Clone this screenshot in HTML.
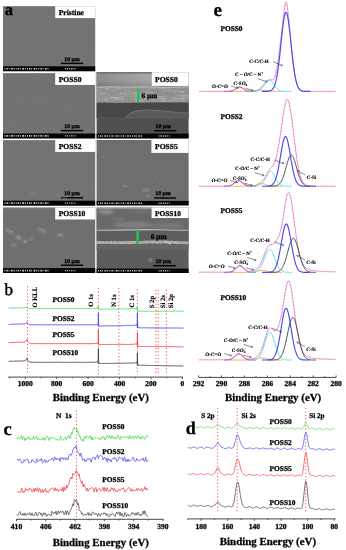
<!DOCTYPE html>
<html><head><meta charset="utf-8"><style>
html,body{margin:0;padding:0;background:#fff;overflow:hidden}
svg{display:block}
text{font-family:"Liberation Serif",serif;fill:#000;text-rendering:geometricPrecision}
.b{font-weight:bold;stroke:#000;stroke-width:0.28px}
.r{font-weight:normal;stroke:#000;stroke-width:0.45px}

.bt{font-weight:bold;stroke:#000;stroke-width:0.15px}
.bs{font-family:"Liberation Sans",sans-serif;font-weight:bold}
</style></head><body>
<svg width="346" height="550" viewBox="0 0 346 550">
<defs>
<filter id="bl0" x="-50%" y="-50%" width="200%" height="200%"><feGaussianBlur stdDeviation="0.35"/></filter>
<filter id="bl1" x="-50%" y="-50%" width="200%" height="200%"><feGaussianBlur stdDeviation="0.9"/></filter>
<filter id="bl2" x="-50%" y="-50%" width="200%" height="200%"><feGaussianBlur stdDeviation="1.6"/></filter>
<linearGradient id="gtopv" x1="0" y1="0" x2="0" y2="1"><stop offset="0" stop-color="#000" stop-opacity="0"/><stop offset="0.55" stop-color="#000" stop-opacity="0.02"/><stop offset="1" stop-color="#000" stop-opacity="0.16"/></linearGradient>
<linearGradient id="gtop" x1="0" y1="0" x2="1" y2="0">
<stop offset="0" stop-color="#8e8e8e"/><stop offset="0.55" stop-color="#a8a8a8"/><stop offset="1" stop-color="#9c9c9c"/>
</linearGradient>
</defs>
<rect width="346" height="550" fill="#fff"/>
<rect x="3" y="6.2" width="92.2" height="65.0" fill="#737373"/>
<rect x="3" y="6.2" width="92.2" height="0.8" fill="#888"/>
<ellipse cx="44.9" cy="39.4" rx="1.5" ry="0.7" fill="#8c8c8c" opacity="0.35"/>
<ellipse cx="49.8" cy="40.9" rx="0.7" ry="0.7" fill="#8c8c8c" opacity="0.35"/>
<ellipse cx="60.6" cy="52.0" rx="0.6" ry="0.6" fill="#8c8c8c" opacity="0.35"/>
<ellipse cx="13.0" cy="52.9" rx="1.3" ry="0.4" fill="#8c8c8c" opacity="0.35"/>
<ellipse cx="91.6" cy="61.3" rx="1.2" ry="0.8" fill="#8c8c8c" opacity="0.35"/>
<ellipse cx="18.9" cy="10.0" rx="1.1" ry="0.4" fill="#8c8c8c" opacity="0.35"/>
<ellipse cx="21.8" cy="22.3" rx="0.5" ry="0.7" fill="#8c8c8c" opacity="0.35"/>
<ellipse cx="43.9" cy="54.7" rx="1.1" ry="0.8" fill="#8c8c8c" opacity="0.35"/>
<ellipse cx="49.1" cy="45.0" rx="1.0" ry="0.6" fill="#8c8c8c" opacity="0.35"/>
<ellipse cx="93.0" cy="63.0" rx="1.4" ry="0.8" fill="#8c8c8c" opacity="0.35"/>
<ellipse cx="32.8" cy="21.6" rx="0.8" ry="0.4" fill="#8c8c8c" opacity="0.35"/>
<ellipse cx="72.6" cy="30.8" rx="1.4" ry="0.6" fill="#8c8c8c" opacity="0.35"/>
<ellipse cx="89.5" cy="55.0" rx="0.5" ry="0.5" fill="#8c8c8c" opacity="0.35"/>
<ellipse cx="85.3" cy="34.6" rx="1.6" ry="0.6" fill="#8c8c8c" opacity="0.35"/>
<rect x="3" y="66.3" width="92.2" height="4.9" fill="#050505"/>
<line x1="4.5" y1="68.8" x2="49" y2="68.8" stroke="#c8c8c8" stroke-width="1.6" stroke-dasharray="0.9 1.1 1.4 0.8 0.7 1.5 1.8 0.9 1 1.2"/>
<line x1="65" y1="68.8" x2="76" y2="68.8" stroke="#b0b0b0" stroke-width="1.4" stroke-dasharray="1 0.8 1.5 1"/>
<text x="64.3" y="60.7" font-size="5.8" class="b">10 µm</text>
<rect x="60.9" y="62.7" width="22.3" height="1.4" fill="#000"/>
<rect x="55.2" y="6.2" width="40.0" height="11.9" fill="#fff"/>
<text x="58.7" y="14.8" font-size="7.6" class="b">Pristine</text>
<rect x="3" y="73" width="92.2" height="65.4" fill="#727272"/>
<rect x="3" y="73" width="92.2" height="0.8" fill="#888"/>
<ellipse cx="46.9" cy="111.8" rx="1.2" ry="0.5" fill="#8c8c8c" opacity="0.35"/>
<ellipse cx="6.0" cy="96.4" rx="0.8" ry="0.9" fill="#8c8c8c" opacity="0.35"/>
<ellipse cx="65.9" cy="108.7" rx="1.1" ry="0.8" fill="#8c8c8c" opacity="0.35"/>
<ellipse cx="17.8" cy="99.9" rx="0.7" ry="0.9" fill="#8c8c8c" opacity="0.35"/>
<ellipse cx="10.2" cy="120.5" rx="0.6" ry="0.8" fill="#8c8c8c" opacity="0.35"/>
<ellipse cx="34.7" cy="98.0" rx="1.4" ry="0.4" fill="#8c8c8c" opacity="0.35"/>
<ellipse cx="10.4" cy="125.8" rx="1.1" ry="0.5" fill="#8c8c8c" opacity="0.35"/>
<ellipse cx="92.1" cy="127.5" rx="0.6" ry="0.7" fill="#8c8c8c" opacity="0.35"/>
<ellipse cx="16.9" cy="93.0" rx="1.2" ry="0.5" fill="#8c8c8c" opacity="0.35"/>
<ellipse cx="66.5" cy="78.8" rx="0.7" ry="0.9" fill="#8c8c8c" opacity="0.35"/>
<ellipse cx="40.3" cy="98.8" rx="1.2" ry="0.7" fill="#8c8c8c" opacity="0.35"/>
<ellipse cx="38.9" cy="77.7" rx="1.3" ry="1.0" fill="#8c8c8c" opacity="0.35"/>
<ellipse cx="91.1" cy="112.1" rx="0.9" ry="0.6" fill="#8c8c8c" opacity="0.35"/>
<ellipse cx="65.9" cy="112.7" rx="0.6" ry="0.5" fill="#8c8c8c" opacity="0.35"/>
<rect x="3" y="133.5" width="92.2" height="4.9" fill="#050505"/>
<line x1="4.5" y1="135.9" x2="49" y2="135.9" stroke="#c8c8c8" stroke-width="1.6" stroke-dasharray="0.9 1.1 1.4 0.8 0.7 1.5 1.8 0.9 1 1.2"/>
<line x1="65" y1="135.9" x2="76" y2="135.9" stroke="#b0b0b0" stroke-width="1.4" stroke-dasharray="1 0.8 1.5 1"/>
<text x="64.3" y="127.9" font-size="5.8" class="b">10 µm</text>
<rect x="60.9" y="129.9" width="22.3" height="1.4" fill="#000"/>
<rect x="55.2" y="73" width="40.0" height="11.9" fill="#fff"/>
<text x="58.7" y="81.6" font-size="7.6" class="b">POSS0</text>
<rect x="3" y="140" width="92.2" height="65.6" fill="#737373"/>
<rect x="3" y="140" width="92.2" height="0.8" fill="#888"/>
<ellipse cx="27.8" cy="180.4" rx="1.3" ry="0.9" fill="#8c8c8c" opacity="0.35"/>
<ellipse cx="21.4" cy="155.6" rx="0.7" ry="0.5" fill="#8c8c8c" opacity="0.35"/>
<ellipse cx="69.7" cy="150.1" rx="1.1" ry="0.5" fill="#8c8c8c" opacity="0.35"/>
<ellipse cx="31.0" cy="166.6" rx="1.4" ry="0.8" fill="#8c8c8c" opacity="0.35"/>
<ellipse cx="6.3" cy="158.1" rx="0.7" ry="0.9" fill="#8c8c8c" opacity="0.35"/>
<ellipse cx="76.4" cy="187.0" rx="1.4" ry="0.8" fill="#8c8c8c" opacity="0.35"/>
<ellipse cx="88.7" cy="186.3" rx="0.8" ry="0.9" fill="#8c8c8c" opacity="0.35"/>
<ellipse cx="47.9" cy="184.2" rx="1.1" ry="0.7" fill="#8c8c8c" opacity="0.35"/>
<ellipse cx="37.1" cy="166.5" rx="0.8" ry="0.5" fill="#8c8c8c" opacity="0.35"/>
<ellipse cx="77.3" cy="186.6" rx="1.6" ry="0.8" fill="#8c8c8c" opacity="0.35"/>
<ellipse cx="53.9" cy="183.9" rx="0.6" ry="0.8" fill="#8c8c8c" opacity="0.35"/>
<ellipse cx="44.1" cy="152.6" rx="0.7" ry="0.7" fill="#8c8c8c" opacity="0.35"/>
<ellipse cx="27.3" cy="168.1" rx="1.2" ry="0.6" fill="#8c8c8c" opacity="0.35"/>
<ellipse cx="16.5" cy="169.8" rx="0.8" ry="0.5" fill="#8c8c8c" opacity="0.35"/>
<rect x="3" y="200.7" width="92.2" height="4.9" fill="#050505"/>
<line x1="4.5" y1="203.1" x2="49" y2="203.1" stroke="#c8c8c8" stroke-width="1.6" stroke-dasharray="0.9 1.1 1.4 0.8 0.7 1.5 1.8 0.9 1 1.2"/>
<line x1="65" y1="203.1" x2="76" y2="203.1" stroke="#b0b0b0" stroke-width="1.4" stroke-dasharray="1 0.8 1.5 1"/>
<text x="64.3" y="195.1" font-size="5.8" class="b">10 µm</text>
<rect x="60.9" y="197.1" width="22.3" height="1.4" fill="#000"/>
<rect x="55.2" y="140" width="40.0" height="11.9" fill="#fff"/>
<text x="58.7" y="148.6" font-size="7.6" class="b">POSS2</text>
<rect x="3" y="207.6" width="92.2" height="65.4" fill="#6f6f6f"/>
<rect x="3" y="207.6" width="92.2" height="0.8" fill="#888"/>
<ellipse cx="14.4" cy="248.8" rx="1.2" ry="1.0" fill="#8c8c8c" opacity="0.35"/>
<ellipse cx="28.9" cy="224.5" rx="1.3" ry="0.8" fill="#8c8c8c" opacity="0.35"/>
<ellipse cx="31.7" cy="247.8" rx="0.9" ry="0.9" fill="#8c8c8c" opacity="0.35"/>
<ellipse cx="15.4" cy="222.7" rx="1.5" ry="0.6" fill="#8c8c8c" opacity="0.35"/>
<ellipse cx="28.0" cy="254.4" rx="1.2" ry="0.5" fill="#8c8c8c" opacity="0.35"/>
<ellipse cx="53.6" cy="246.7" rx="0.7" ry="0.8" fill="#8c8c8c" opacity="0.35"/>
<ellipse cx="15.9" cy="228.9" rx="0.6" ry="0.5" fill="#8c8c8c" opacity="0.35"/>
<ellipse cx="91.3" cy="232.6" rx="1.6" ry="0.7" fill="#8c8c8c" opacity="0.35"/>
<ellipse cx="58.6" cy="258.1" rx="1.3" ry="0.5" fill="#8c8c8c" opacity="0.35"/>
<ellipse cx="57.0" cy="245.1" rx="0.7" ry="0.5" fill="#8c8c8c" opacity="0.35"/>
<ellipse cx="82.2" cy="238.5" rx="0.7" ry="0.7" fill="#8c8c8c" opacity="0.35"/>
<ellipse cx="24.2" cy="254.0" rx="1.1" ry="0.5" fill="#8c8c8c" opacity="0.35"/>
<ellipse cx="77.2" cy="215.5" rx="0.8" ry="0.4" fill="#8c8c8c" opacity="0.35"/>
<ellipse cx="70.3" cy="216.8" rx="1.1" ry="0.5" fill="#8c8c8c" opacity="0.35"/>
<rect x="3" y="268.1" width="92.2" height="4.9" fill="#050505"/>
<line x1="4.5" y1="270.6" x2="49" y2="270.6" stroke="#c8c8c8" stroke-width="1.6" stroke-dasharray="0.9 1.1 1.4 0.8 0.7 1.5 1.8 0.9 1 1.2"/>
<line x1="65" y1="270.6" x2="76" y2="270.6" stroke="#b0b0b0" stroke-width="1.4" stroke-dasharray="1 0.8 1.5 1"/>
<text x="64.3" y="262.5" font-size="5.8" class="b">10 µm</text>
<rect x="60.9" y="264.5" width="22.3" height="1.4" fill="#000"/>
<rect x="55.2" y="207.6" width="40.0" height="11.9" fill="#fff"/>
<text x="58.7" y="216.2" font-size="7.6" class="b">POSS10</text>
<g filter="url(#bl1)">
<ellipse cx="0" cy="0" rx="5.5" ry="1.4" fill="#a0a0a0" opacity="0.55" transform="translate(9,231) rotate(30)"/>
<ellipse cx="0" cy="0" rx="2.8" ry="2.2" fill="#a0a0a0" opacity="0.55" transform="translate(18.5,237.5) rotate(0)"/>
<ellipse cx="0" cy="0" rx="2.6" ry="2" fill="#a0a0a0" opacity="0.55" transform="translate(25,241.5) rotate(0)"/>
<ellipse cx="0" cy="0" rx="5.5" ry="1.3" fill="#a0a0a0" opacity="0.55" transform="translate(42,230.5) rotate(25)"/>
<ellipse cx="0" cy="0" rx="3.8" ry="1.5" fill="#a0a0a0" opacity="0.55" transform="translate(60.5,235) rotate(0)"/>
<ellipse cx="0" cy="0" rx="3" ry="1.4" fill="#a0a0a0" opacity="0.55" transform="translate(14,245) rotate(0)"/>
<ellipse cx="0" cy="0" rx="2" ry="1.2" fill="#a0a0a0" opacity="0.55" transform="translate(31,239) rotate(0)"/>
</g>
<rect x="18" y="237" width="1" height="1" fill="#c0c0c0" opacity="0.7"/>
<rect x="20" y="238.5" width="1" height="1" fill="#c0c0c0" opacity="0.7"/>
<rect x="24" y="241" width="1" height="1" fill="#c0c0c0" opacity="0.7"/>
<rect x="43" y="229.5" width="1" height="1" fill="#c0c0c0" opacity="0.7"/>
<rect x="60" y="234.5" width="1" height="1" fill="#c0c0c0" opacity="0.7"/>
<rect x="11" y="231" width="1" height="1" fill="#c0c0c0" opacity="0.7"/>
<g filter="url(#bl1)">
<ellipse cx="33" cy="193" rx="3" ry="1.5" fill="#8e8e8e" opacity="0.45"/>
<ellipse cx="58" cy="195" rx="3.5" ry="1.6" fill="#8e8e8e" opacity="0.45"/>
<ellipse cx="65" cy="198" rx="3" ry="1.2" fill="#8e8e8e" opacity="0.45"/>
</g>
<rect x="96.6" y="72.2" width="92.0" height="66.2" fill="#4f4f4f"/>
<rect x="96.6" y="72.2" width="92.0" height="15" fill="url(#gtop)"/>
<rect x="96.6" y="72.2" width="92.0" height="15" fill="url(#gtopv)"/>
<rect x="96.6" y="72.2" width="92.0" height="1.4" fill="#6e6e6e"/>
<path d="M96.6,86.8 C110,86 125,87.2 140,86.6 C150,86 158,87.4 168,87.2 L188.6,86.4 L188.6,102.4 C175,103 160,101.8 140,102.8 C120,103.4 110,102.4 96.6,102.8 Z" fill="#939393"/>
<path d="M96.6,87.2 C110,86.4 125,87.6 140,87 C150,86.4 158,87.8 168,87.6 L188.6,86.8" fill="none" stroke="#bdbdbd" stroke-width="1.0"/>
<path d="M152,89 C160,88 170,88 180,89.5 L188.6,90 L188.6,95 C180,96 168,97 158,95 C154,94 152,92 152,89 Z" fill="#8e8e8e" opacity="0.8"/>
<g filter="url(#bl0)">
<line x1="111.1" y1="97.3" x2="117.6" y2="97.7" stroke="#bcbcbc" stroke-width="0.9"/>
<line x1="138.4" y1="101.0" x2="141.7" y2="100.7" stroke="#888888" stroke-width="0.4"/>
<line x1="129.3" y1="95.9" x2="131.7" y2="96.4" stroke="#b0b0b0" stroke-width="0.7"/>
<line x1="135.0" y1="101.4" x2="142.4" y2="101.6" stroke="#bcbcbc" stroke-width="0.4"/>
<line x1="125.5" y1="94.7" x2="128.4" y2="94.1" stroke="#a6a6a6" stroke-width="0.8"/>
<line x1="104.4" y1="98.9" x2="106.5" y2="99.0" stroke="#b0b0b0" stroke-width="0.6"/>
<line x1="139.3" y1="90.5" x2="141.5" y2="90.0" stroke="#b0b0b0" stroke-width="0.5"/>
<line x1="155.9" y1="98.8" x2="162.5" y2="99.4" stroke="#888888" stroke-width="0.4"/>
<line x1="145.9" y1="95.5" x2="150.6" y2="96.1" stroke="#a6a6a6" stroke-width="0.8"/>
<line x1="132.6" y1="92.9" x2="137.8" y2="92.7" stroke="#bcbcbc" stroke-width="0.6"/>
<line x1="120.0" y1="99.3" x2="123.1" y2="98.7" stroke="#bcbcbc" stroke-width="0.4"/>
<line x1="149.3" y1="95.0" x2="155.3" y2="95.1" stroke="#a6a6a6" stroke-width="0.7"/>
<line x1="112.5" y1="90.3" x2="116.9" y2="90.1" stroke="#a6a6a6" stroke-width="0.7"/>
<line x1="123.6" y1="89.4" x2="126.0" y2="89.7" stroke="#b0b0b0" stroke-width="0.6"/>
<line x1="156.7" y1="97.1" x2="165.0" y2="97.0" stroke="#b0b0b0" stroke-width="0.9"/>
<line x1="181.2" y1="96.0" x2="189.4" y2="96.0" stroke="#bcbcbc" stroke-width="0.7"/>
<line x1="179.0" y1="91.3" x2="184.9" y2="91.7" stroke="#bcbcbc" stroke-width="0.8"/>
<line x1="139.1" y1="99.3" x2="141.5" y2="99.5" stroke="#a6a6a6" stroke-width="0.4"/>
<line x1="118.5" y1="93.3" x2="126.6" y2="93.9" stroke="#b0b0b0" stroke-width="0.8"/>
<line x1="138.7" y1="91.4" x2="147.5" y2="91.9" stroke="#888888" stroke-width="0.6"/>
<line x1="180.4" y1="100.1" x2="185.0" y2="100.6" stroke="#b0b0b0" stroke-width="0.7"/>
<line x1="134.1" y1="95.8" x2="142.0" y2="95.4" stroke="#a6a6a6" stroke-width="0.7"/>
<line x1="108.9" y1="97.7" x2="113.5" y2="98.3" stroke="#b0b0b0" stroke-width="0.4"/>
<line x1="148.8" y1="96.7" x2="156.8" y2="96.6" stroke="#888888" stroke-width="0.7"/>
<line x1="162.7" y1="99.0" x2="165.7" y2="98.5" stroke="#b0b0b0" stroke-width="0.4"/>
<line x1="98.8" y1="94.0" x2="101.8" y2="94.2" stroke="#b4b4b4" stroke-width="0.5"/>
<line x1="144.0" y1="92.4" x2="149.5" y2="92.5" stroke="#b0b0b0" stroke-width="0.5"/>
<line x1="172.1" y1="90.7" x2="179.3" y2="90.8" stroke="#b4b4b4" stroke-width="0.7"/>
<line x1="162.2" y1="88.8" x2="170.7" y2="88.7" stroke="#bcbcbc" stroke-width="0.4"/>
<line x1="163.8" y1="90.4" x2="170.8" y2="90.9" stroke="#a6a6a6" stroke-width="0.7"/>
<line x1="162.2" y1="91.3" x2="165.3" y2="91.7" stroke="#a6a6a6" stroke-width="0.8"/>
<line x1="139.7" y1="95.7" x2="145.5" y2="95.7" stroke="#b4b4b4" stroke-width="0.8"/>
<line x1="181.7" y1="92.2" x2="188.6" y2="92.5" stroke="#888888" stroke-width="0.5"/>
<line x1="150.8" y1="92.4" x2="154.3" y2="92.2" stroke="#b4b4b4" stroke-width="0.9"/>
<line x1="106.1" y1="89.0" x2="108.6" y2="89.0" stroke="#bcbcbc" stroke-width="0.9"/>
<line x1="156.4" y1="97.5" x2="161.7" y2="97.4" stroke="#888888" stroke-width="0.6"/>
<line x1="116.4" y1="88.7" x2="121.5" y2="88.4" stroke="#b0b0b0" stroke-width="0.7"/>
<line x1="132.2" y1="93.8" x2="139.8" y2="93.6" stroke="#bcbcbc" stroke-width="0.6"/>
<line x1="152.2" y1="101.0" x2="154.8" y2="100.6" stroke="#bcbcbc" stroke-width="0.6"/>
<line x1="149.8" y1="90.9" x2="155.0" y2="91.1" stroke="#888888" stroke-width="0.8"/>
<line x1="158.1" y1="97.2" x2="161.8" y2="97.1" stroke="#bcbcbc" stroke-width="0.7"/>
<line x1="169.2" y1="101.0" x2="178.1" y2="100.6" stroke="#b4b4b4" stroke-width="0.5"/>
<line x1="173.7" y1="97.7" x2="176.3" y2="97.2" stroke="#b0b0b0" stroke-width="0.6"/>
<line x1="179.6" y1="98.0" x2="184.9" y2="98.6" stroke="#b4b4b4" stroke-width="0.5"/>
<line x1="134.7" y1="97.2" x2="139.3" y2="97.4" stroke="#888888" stroke-width="0.5"/>
<line x1="180.3" y1="92.3" x2="184.1" y2="92.8" stroke="#b0b0b0" stroke-width="0.7"/>
<line x1="117.6" y1="97.3" x2="124.6" y2="97.8" stroke="#b0b0b0" stroke-width="0.6"/>
<line x1="135.0" y1="96.3" x2="139.0" y2="96.5" stroke="#b0b0b0" stroke-width="0.7"/>
<line x1="105.3" y1="101.2" x2="108.8" y2="101.5" stroke="#a6a6a6" stroke-width="0.9"/>
<line x1="158.6" y1="88.3" x2="164.1" y2="88.1" stroke="#b4b4b4" stroke-width="0.6"/>
<line x1="136.2" y1="101.4" x2="144.8" y2="100.9" stroke="#b0b0b0" stroke-width="0.6"/>
<line x1="136.6" y1="100.1" x2="141.2" y2="100.2" stroke="#b0b0b0" stroke-width="0.9"/>
<line x1="134.6" y1="99.4" x2="138.8" y2="99.2" stroke="#bcbcbc" stroke-width="0.7"/>
<line x1="116.4" y1="98.8" x2="124.3" y2="99.3" stroke="#bcbcbc" stroke-width="0.4"/>
<line x1="147.8" y1="89.1" x2="156.1" y2="88.7" stroke="#b0b0b0" stroke-width="0.6"/>
<line x1="142.9" y1="95.2" x2="148.4" y2="94.8" stroke="#a6a6a6" stroke-width="0.5"/>
<line x1="121.9" y1="96.6" x2="124.0" y2="96.8" stroke="#b4b4b4" stroke-width="0.5"/>
<line x1="105.2" y1="99.2" x2="109.8" y2="98.7" stroke="#a6a6a6" stroke-width="0.4"/>
<line x1="140.2" y1="97.2" x2="146.7" y2="96.6" stroke="#b0b0b0" stroke-width="0.5"/>
<line x1="128.2" y1="91.4" x2="131.5" y2="91.7" stroke="#b0b0b0" stroke-width="0.7"/>
<line x1="103.5" y1="99.2" x2="107.0" y2="99.4" stroke="#b4b4b4" stroke-width="0.7"/>
<line x1="152.3" y1="96.7" x2="154.5" y2="96.7" stroke="#a6a6a6" stroke-width="0.5"/>
<line x1="171.5" y1="98.9" x2="179.8" y2="98.6" stroke="#b4b4b4" stroke-width="0.8"/>
<line x1="176.0" y1="95.2" x2="184.4" y2="95.1" stroke="#a6a6a6" stroke-width="0.9"/>
<line x1="179.0" y1="98.7" x2="181.1" y2="98.3" stroke="#a6a6a6" stroke-width="0.5"/>
<line x1="98.8" y1="93.1" x2="106.0" y2="93.6" stroke="#b0b0b0" stroke-width="0.7"/>
<line x1="174.2" y1="90.8" x2="183.2" y2="90.5" stroke="#888888" stroke-width="0.6"/>
<line x1="164.1" y1="100.9" x2="172.5" y2="100.8" stroke="#b0b0b0" stroke-width="0.5"/>
<line x1="144.1" y1="99.0" x2="148.6" y2="99.6" stroke="#b0b0b0" stroke-width="0.9"/>
<line x1="180.6" y1="98.2" x2="189.5" y2="98.5" stroke="#b0b0b0" stroke-width="0.5"/>
<line x1="143.5" y1="93.0" x2="152.4" y2="92.5" stroke="#a6a6a6" stroke-width="0.5"/>
<line x1="133.9" y1="96.7" x2="141.3" y2="96.8" stroke="#b0b0b0" stroke-width="0.5"/>
<line x1="134.5" y1="93.1" x2="139.9" y2="92.6" stroke="#a6a6a6" stroke-width="0.8"/>
<line x1="114.7" y1="98.7" x2="119.1" y2="99.0" stroke="#bcbcbc" stroke-width="0.8"/>
<line x1="160.9" y1="101.4" x2="165.6" y2="100.9" stroke="#bcbcbc" stroke-width="0.8"/>
<line x1="172.9" y1="92.0" x2="180.7" y2="91.6" stroke="#bcbcbc" stroke-width="0.5"/>
<line x1="161.2" y1="99.0" x2="166.6" y2="98.4" stroke="#b4b4b4" stroke-width="0.9"/>
<line x1="108.2" y1="92.5" x2="112.7" y2="92.7" stroke="#888888" stroke-width="0.7"/>
<line x1="157.6" y1="99.7" x2="164.8" y2="99.9" stroke="#a6a6a6" stroke-width="0.8"/>
<line x1="137.0" y1="89.7" x2="145.2" y2="90.1" stroke="#888888" stroke-width="0.8"/>
</g>
<rect x="96.6" y="102.8" width="92.0" height="9" fill="#474747"/>
<rect x="96.6" y="111.5" width="92.0" height="6.5" fill="#484848"/>
<path d="M125,118 C128,115 130,112.6 136,111 C142,109.8 150,109.6 165,111.2 C175,112.2 182,113 188.6,113 L188.6,118 Z" fill="#5a5a5a"/>
<path d="M125,118 C128,115 130,112.6 136,111 C142,109.8 150,109.6 165,111.2 C175,112.2 182,113 188.6,113" fill="none" stroke="#7a7a7a" stroke-width="0.8"/>
<rect x="96.6" y="117.6" width="92.0" height="0.8" fill="#606060"/>
<rect x="96.6" y="133.6" width="92.0" height="4.8" fill="#050505"/>
<line x1="98.1" y1="136.0" x2="142.6" y2="136.0" stroke="#c8c8c8" stroke-width="1.6" stroke-dasharray="0.9 1.1 1.4 0.8 0.7 1.5 1.8 0.9 1 1.2"/>
<line x1="158.6" y1="136.0" x2="169.6" y2="136.0" stroke="#b0b0b0" stroke-width="1.4" stroke-dasharray="1 0.8 1.5 1"/>
<text x="155.6" y="128.0" font-size="5.8" class="b">10 µm</text>
<rect x="154.2" y="130.0" width="22.2" height="1.4" fill="#000"/>
<rect x="151.8" y="72.2" width="36.8" height="13.7" fill="#fff"/>
<text x="155.0" y="82.4" font-size="7.6" class="b">POSS0</text>
<rect x="137.1" y="88.6" width="2.3" height="13.5" fill="#1ec24f"/>
<text x="141.6" y="98.2" font-size="7.3" class="b">6 µm</text>
<rect x="96.6" y="140" width="92.0" height="65.4" fill="#6e6e6e"/>
<ellipse cx="148.8" cy="177.4" rx="1.4" ry="0.6" fill="#8c8c8c" opacity="0.35"/>
<ellipse cx="156.0" cy="191.5" rx="1.5" ry="0.5" fill="#8c8c8c" opacity="0.35"/>
<ellipse cx="156.0" cy="176.6" rx="1.1" ry="1.0" fill="#8c8c8c" opacity="0.35"/>
<ellipse cx="145.1" cy="167.2" rx="1.5" ry="0.8" fill="#8c8c8c" opacity="0.35"/>
<ellipse cx="125.1" cy="159.8" rx="1.0" ry="0.4" fill="#8c8c8c" opacity="0.35"/>
<ellipse cx="152.1" cy="183.0" rx="1.0" ry="0.9" fill="#8c8c8c" opacity="0.35"/>
<ellipse cx="180.3" cy="173.2" rx="1.2" ry="0.5" fill="#8c8c8c" opacity="0.35"/>
<ellipse cx="103.5" cy="196.3" rx="0.8" ry="0.5" fill="#8c8c8c" opacity="0.35"/>
<ellipse cx="177.5" cy="183.8" rx="0.6" ry="0.6" fill="#8c8c8c" opacity="0.35"/>
<ellipse cx="120.0" cy="157.8" rx="0.5" ry="0.7" fill="#8c8c8c" opacity="0.35"/>
<ellipse cx="125.4" cy="164.4" rx="0.7" ry="0.5" fill="#8c8c8c" opacity="0.35"/>
<ellipse cx="101.5" cy="190.5" rx="1.3" ry="0.7" fill="#8c8c8c" opacity="0.35"/>
<ellipse cx="109.5" cy="151.1" rx="0.6" ry="0.6" fill="#8c8c8c" opacity="0.35"/>
<ellipse cx="103.7" cy="158.0" rx="0.7" ry="0.5" fill="#8c8c8c" opacity="0.35"/>
<ellipse cx="103" cy="157" rx="1.2" ry="1" fill="#8e8e8e" opacity="0.55"/>
<ellipse cx="125" cy="186" rx="3" ry="1.5" fill="#8e8e8e" opacity="0.55"/>
<ellipse cx="146" cy="190" rx="3.5" ry="2" fill="#8e8e8e" opacity="0.55"/>
<ellipse cx="148" cy="196" rx="3" ry="1.4" fill="#8e8e8e" opacity="0.55"/>
<rect x="96.6" y="200.9" width="92.0" height="4.5" fill="#050505"/>
<line x1="98.1" y1="203.2" x2="142.6" y2="203.2" stroke="#c8c8c8" stroke-width="1.6" stroke-dasharray="0.9 1.1 1.4 0.8 0.7 1.5 1.8 0.9 1 1.2"/>
<line x1="158.6" y1="203.2" x2="169.6" y2="203.2" stroke="#b0b0b0" stroke-width="1.4" stroke-dasharray="1 0.8 1.5 1"/>
<text x="155.3" y="195.3" font-size="5.8" class="b">10 µm</text>
<rect x="154.2" y="197.3" width="21.9" height="1.4" fill="#000"/>
<rect x="151.4" y="140" width="37.2" height="12.9" fill="#fff"/>
<text x="155.0" y="149.3" font-size="7.6" class="b">POSS5</text>
<rect x="96.6" y="207.6" width="92.0" height="65.4" fill="#5c5c5c"/>
<rect x="96.6" y="207.6" width="92.0" height="23.2" fill="#696969"/>
<g filter="url(#bl2)">
<ellipse cx="106" cy="211.5" rx="8" ry="2.6" fill="#939393" opacity="0.9"/>
<ellipse cx="140" cy="210" rx="14" ry="2" fill="#747474" opacity="0.9"/>
<ellipse cx="133" cy="225" rx="20" ry="3" fill="#838383" opacity="0.9"/>
<ellipse cx="168" cy="226" rx="16" ry="3" fill="#7c7c7c" opacity="0.9"/>
<ellipse cx="178" cy="214" rx="8" ry="3" fill="#747474" opacity="0.9"/>
<ellipse cx="118" cy="219" rx="6" ry="2" fill="#777777" opacity="0.9"/>
</g>
<rect x="96.6" y="207.6" width="92.0" height="0.9" fill="#c4c4c4"/>
<path d="M96.6,230.2 C120,230.4 140,229.2 160,229.8 C170,230 180,230.4 188.6,230.2" fill="none" stroke="#b8b8b8" stroke-width="1.1"/>
<rect x="96.6" y="231" width="92.0" height="10" fill="#5e5e5e"/>
<path d="M96.6,241.4 C110,240.8 130,241.6 145,240.8 C160,239.8 175,241 188.6,241.6 L188.6,244.4 C175,244.2 160,243.2 145,243.8 C130,244.4 110,243.6 96.6,244 Z" fill="#a8a8a8"/>
<rect x="134.0" y="241.4" width="0.8" height="0.6" fill="#d4d4d4"/>
<rect x="166.0" y="241.6" width="1.0" height="0.9" fill="#d4d4d4"/>
<rect x="146.1" y="244.4" width="1.1" height="0.8" fill="#d4d4d4"/>
<rect x="152.8" y="241.5" width="1.5" height="0.7" fill="#d4d4d4"/>
<rect x="132.5" y="243.3" width="0.8" height="0.9" fill="#d4d4d4"/>
<rect x="174.1" y="242.0" width="1.5" height="0.8" fill="#d4d4d4"/>
<rect x="167.3" y="242.5" width="1.0" height="0.7" fill="#d4d4d4"/>
<rect x="98.3" y="241.4" width="1.6" height="0.8" fill="#d4d4d4"/>
<rect x="139.2" y="244.2" width="1.2" height="1.1" fill="#d4d4d4"/>
<rect x="129.8" y="241.5" width="1.5" height="0.6" fill="#d4d4d4"/>
<rect x="168.9" y="243.0" width="1.6" height="1.1" fill="#d4d4d4"/>
<rect x="157.0" y="240.7" width="0.6" height="0.8" fill="#d4d4d4"/>
<rect x="171.4" y="240.9" width="1.0" height="0.6" fill="#d4d4d4"/>
<rect x="125.5" y="240.6" width="0.9" height="0.8" fill="#d4d4d4"/>
<rect x="115.7" y="243.7" width="0.7" height="0.6" fill="#d4d4d4"/>
<rect x="120.8" y="242.2" width="1.4" height="0.7" fill="#d4d4d4"/>
<rect x="160.1" y="244.3" width="0.7" height="1.0" fill="#d4d4d4"/>
<rect x="151.6" y="243.6" width="1.2" height="0.7" fill="#d4d4d4"/>
<rect x="106.3" y="241.2" width="0.8" height="0.6" fill="#d4d4d4"/>
<rect x="110.7" y="241.4" width="1.2" height="1.0" fill="#d4d4d4"/>
<rect x="169.4" y="244.0" width="0.7" height="1.0" fill="#d4d4d4"/>
<rect x="114.3" y="240.9" width="0.9" height="0.9" fill="#d4d4d4"/>
<rect x="101.9" y="241.5" width="1.0" height="1.0" fill="#d4d4d4"/>
<rect x="133.5" y="242.3" width="1.0" height="0.6" fill="#d4d4d4"/>
<rect x="176.8" y="244.3" width="1.3" height="0.7" fill="#d4d4d4"/>
<rect x="137.6" y="241.8" width="1.3" height="0.9" fill="#d4d4d4"/>
<rect x="125.6" y="244.1" width="1.3" height="0.6" fill="#d4d4d4"/>
<rect x="170.4" y="243.3" width="0.8" height="0.7" fill="#d4d4d4"/>
<rect x="165.2" y="240.9" width="1.0" height="1.1" fill="#d4d4d4"/>
<rect x="120.7" y="242.6" width="1.5" height="1.0" fill="#d4d4d4"/>
<rect x="168.5" y="242.7" width="1.5" height="0.7" fill="#d4d4d4"/>
<rect x="176.9" y="242.2" width="1.3" height="0.9" fill="#d4d4d4"/>
<rect x="123.0" y="243.3" width="1.2" height="1.1" fill="#d4d4d4"/>
<rect x="157.6" y="242.4" width="1.0" height="1.0" fill="#d4d4d4"/>
<rect x="128.7" y="243.3" width="1.3" height="1.1" fill="#d4d4d4"/>
<rect x="115.0" y="243.3" width="0.8" height="0.9" fill="#d4d4d4"/>
<rect x="156.7" y="243.6" width="1.5" height="0.6" fill="#d4d4d4"/>
<rect x="175.0" y="242.0" width="1.0" height="0.6" fill="#d4d4d4"/>
<rect x="145.5" y="240.6" width="0.9" height="0.9" fill="#d4d4d4"/>
<rect x="164.9" y="241.3" width="1.4" height="0.8" fill="#d4d4d4"/>
<rect x="96.6" y="244.4" width="92.0" height="5" fill="#656565"/>
<circle cx="150.3" cy="260.2" r="1.6" fill="none" stroke="#aaa" stroke-width="0.6"/>
<rect x="96.6" y="268.6" width="92.0" height="4.4" fill="#050505"/>
<line x1="98.1" y1="270.8" x2="142.6" y2="270.8" stroke="#c8c8c8" stroke-width="1.6" stroke-dasharray="0.9 1.1 1.4 0.8 0.7 1.5 1.8 0.9 1 1.2"/>
<line x1="158.6" y1="270.8" x2="169.6" y2="270.8" stroke="#b0b0b0" stroke-width="1.4" stroke-dasharray="1 0.8 1.5 1"/>
<text x="155.6" y="263.0" font-size="5.8" class="b">10 µm</text>
<rect x="153.3" y="265.0" width="22.5" height="1.4" fill="#000"/>
<rect x="151.6" y="207.6" width="37.0" height="10.4" fill="#fff"/>
<text x="155.0" y="215.8" font-size="7.4" class="b">POSS10</text>
<rect x="136.3" y="229.9" width="2.6" height="13.8" fill="#1ec24f"/>
<text x="150.8" y="238.5" font-size="7.4" class="b">6 µm</text>
<text x="4.7" y="14.5" font-size="16.5" class="b">a</text>
<text x="4.5" y="295.2" font-size="17" class="r">b</text>
<line x1="27.5" y1="286.2" x2="27.5" y2="374.6" stroke="#f04040" stroke-width="0.9" stroke-dasharray="1.2 2.2"/>
<line x1="98.4" y1="288" x2="98.4" y2="374.6" stroke="#f04040" stroke-width="0.9" stroke-dasharray="1.2 2.2"/>
<line x1="118.9" y1="288" x2="118.9" y2="374.6" stroke="#f04040" stroke-width="0.9" stroke-dasharray="1.2 2.2"/>
<line x1="137.4" y1="289.4" x2="137.4" y2="374.6" stroke="#f04040" stroke-width="0.9" stroke-dasharray="1.2 2.2"/>
<line x1="155.9" y1="290" x2="155.9" y2="374.6" stroke="#f04040" stroke-width="0.9" stroke-dasharray="1.2 2.2"/>
<line x1="158.2" y1="290" x2="158.2" y2="374.6" stroke="#f04040" stroke-width="0.9" stroke-dasharray="1.2 2.2"/>
<line x1="166.4" y1="290" x2="166.4" y2="374.6" stroke="#f04040" stroke-width="0.9" stroke-dasharray="1.2 2.2"/>
<text transform="translate(37.4,307.6) rotate(-90)" font-size="6.6" class="bt">O KLL</text>
<text transform="translate(93.2,306.8) rotate(-90)" font-size="6.6" class="bt">O 1s</text>
<text transform="translate(116.2,306.8) rotate(-90)" font-size="6.6" class="bt">N 1s</text>
<text transform="translate(134.2,307.4) rotate(-90)" font-size="6.6" class="bt">C 1s</text>
<text transform="translate(153.6,308.2) rotate(-90)" font-size="6.6" class="bt">S 2p</text>
<text transform="translate(164.6,308.2) rotate(-90)" font-size="6.6" class="bt">Si 2s</text>
<text transform="translate(173.3,308.2) rotate(-90)" font-size="6.6" class="bt">Si 2p</text>
<path d="M8.5,308.2 9.0,308.1 9.5,308.2 10.0,308.1 10.5,308.1 11.0,308.1 11.5,308.0 12.0,308.1 12.5,308.0 13.0,308.0 13.5,307.9 14.0,307.9 14.5,308.0 15.0,308.1 15.5,307.9 16.0,307.9 16.5,308.0 17.0,308.0 17.5,307.9 18.0,307.9 18.5,308.0 19.0,307.8 19.5,307.9 20.0,307.8 20.5,307.7 21.0,307.7 21.5,307.7 22.0,307.8 22.5,307.7 23.0,307.8 23.5,307.8 24.0,307.7 24.5,307.7 25.0,307.5 25.5,307.5 26.0,307.4 26.5,307.3 27.0,307.1 27.5,308.0 28.0,308.2 28.5,308.3 29.0,308.3 29.5,308.5 30.0,308.5 30.5,308.4 31.0,308.5 31.5,308.5 32.0,308.6 32.5,308.6 33.0,308.4 33.5,308.6 34.0,308.4 34.5,308.5 35.0,308.6 35.5,308.4 36.0,308.5 36.5,308.4 37.0,308.5 37.5,308.6 38.0,308.5 38.5,308.6 39.0,308.5 39.5,308.5 40.0,308.5 40.5,308.5 41.0,308.5 41.5,308.6 42.0,308.6 42.5,308.5 43.0,308.5 43.5,308.4 44.0,308.5 44.5,308.5 45.0,308.6 45.5,308.6 46.0,308.4 46.5,308.5 47.0,308.5 47.5,308.4 48.0,308.5 48.5,308.4 49.0,308.4 49.5,308.4 50.0,308.6 50.5,308.4 51.0,308.4 51.5,308.5 52.0,308.6 52.5,308.4 53.0,308.5 53.5,308.5 54.0,308.6 54.5,308.6 55.0,308.6 55.5,308.4 56.0,308.5 56.5,308.5 57.0,308.6 57.5,308.6 58.0,308.4 58.5,308.4 59.0,308.4 59.5,308.4 60.0,308.5 60.5,308.5 61.0,308.4 61.5,308.4 62.0,308.5 62.5,308.5 63.0,308.5 63.5,308.6 64.0,308.5 64.5,308.5 65.0,308.5 65.5,308.5 66.0,308.4 66.5,308.6 67.0,308.6 67.5,308.6 68.0,308.6 68.5,308.5 69.0,308.5 69.5,308.4 70.0,308.5 70.5,308.4 71.0,308.4 71.5,308.4 72.0,308.4 72.5,308.5 73.0,308.4 73.5,308.4 74.0,308.4 74.5,308.4 75.0,308.5 75.5,308.4 76.0,308.6 76.5,308.5 77.0,308.4 77.5,308.4 78.0,308.5 78.5,308.5 79.0,308.4 79.5,308.6 80.0,308.6 80.5,308.5 81.0,308.5 81.5,308.4 82.0,308.4 82.5,308.5 83.0,308.4 83.5,308.6 84.0,308.4 84.5,308.4 85.0,308.6 85.5,308.5 86.0,308.4 86.5,308.5 87.0,308.4 87.5,308.5 88.0,308.6 88.5,308.6 89.0,308.5 89.5,308.4 90.0,308.5 90.5,308.4 91.0,308.6 91.5,308.5 92.0,308.6 92.5,308.5 93.0,308.4 93.5,308.6 94.0,308.6 94.5,308.6 95.0,308.6 95.5,308.5 96.0,308.3 96.5,308.1 97.0,308.0 97.5,307.9 98.2,307.3 98.4,305.3 98.7,309.2 98.0,307.7 98.5,309.1 99.0,309.1 99.5,309.1 100.0,309.2 100.5,309.3 101.0,309.2 101.5,309.3 102.0,309.3 102.5,309.3 103.0,309.1 103.5,309.1 104.0,309.1 104.5,309.0 105.0,309.0 105.5,309.1 106.0,309.2 106.5,309.2 107.0,309.1 107.5,309.1 108.0,309.1 108.5,309.0 109.0,309.1 109.5,309.2 110.0,309.1 110.5,309.1 111.0,309.0 111.5,309.0 112.0,309.1 112.5,309.0 113.0,309.1 113.5,309.1 114.0,309.0 114.5,309.0 115.0,309.1 115.5,309.0 116.0,308.9 116.5,308.9 117.0,308.9 117.5,309.1 118.0,309.0 118.5,308.9 119.0,309.0 119.5,309.0 120.0,309.0 120.5,308.9 121.0,308.9 121.5,308.8 122.0,308.8 122.5,309.0 123.0,308.9 123.5,308.9 124.0,309.0 124.5,308.8 125.0,308.9 125.5,308.9 126.0,308.8 126.5,308.8 127.0,308.8 127.5,308.8 128.0,308.8 128.5,308.8 129.0,308.8 129.5,308.7 130.0,308.9 130.5,308.8 131.0,308.8 131.5,308.8 132.0,308.9 132.5,308.7 133.0,308.9 133.5,308.8 134.0,308.8 134.5,308.6 135.0,308.4 135.5,308.4 136.0,308.2 136.5,308.0 137.2,307.5 137.4,306.0 137.7,311.2 137.0,308.1 137.5,311.1 138.0,311.2 138.5,311.3 139.0,311.2 139.5,311.2 140.0,311.2 140.5,311.2 141.0,311.3 141.5,311.1 142.0,311.2 142.5,311.1 143.0,311.1 143.5,311.3 144.0,311.2 144.5,311.2 145.0,311.3 145.5,311.3 146.0,311.2 146.5,311.2 147.0,311.2 147.5,311.2 148.0,311.2 148.5,311.2 149.0,311.2 149.5,311.2 150.0,311.3 150.5,311.2 151.0,311.3 151.5,311.3 152.0,311.1 152.5,311.2 153.0,311.3 153.5,311.3 154.0,311.1 154.5,311.1 155.0,311.2 155.5,311.1 156.0,311.1 156.5,311.1 157.0,311.2 157.5,311.3 158.0,311.3 158.5,311.1 159.0,311.3 159.5,311.2 160.0,311.1 160.5,311.3 161.0,311.3 161.5,311.1 162.0,311.3 162.5,311.2 163.0,311.2 163.5,311.3 164.0,311.3 164.5,311.1 165.0,311.2 165.5,311.2 166.0,311.2 166.5,311.1 167.0,311.2 167.5,311.3 168.0,311.1 168.5,311.2 169.0,311.2 169.5,311.1 170.0,311.2 170.5,311.2 171.0,311.2 171.5,311.1 172.0,311.3 172.5,311.3 173.0,311.3 173.5,311.1 174.0,311.1 174.5,311.1 175.0,311.3 175.5,311.1 176.0,311.1 176.5,311.2 177.0,311.3 177.5,311.3 178.0,311.1 178.5,311.1 179.0,311.3 179.5,311.2 180.0,311.2 180.5,311.1 181.0,311.1 181.5,311.2 182.0,311.2 182.5,311.1 183.0,311.3 183.5,311.2" fill="none" stroke="#55dd55" stroke-width="0.9"/>
<path d="M8.5,324.5 9.0,324.3 9.5,324.5 10.0,324.2 10.5,324.4 11.0,324.3 11.5,324.3 12.0,324.3 12.5,324.4 13.0,324.2 13.5,324.2 14.0,324.2 14.5,324.1 15.0,324.1 15.5,324.1 16.0,324.1 16.5,324.1 17.0,324.1 17.5,324.1 18.0,324.2 18.5,324.0 19.0,324.1 19.5,324.0 20.0,324.0 20.5,323.9 21.0,323.9 21.5,323.9 22.0,324.0 22.5,324.0 23.0,323.9 23.5,323.9 24.0,324.0 24.5,323.8 25.0,323.8 25.5,323.5 26.0,323.2 26.5,322.8 27.0,322.3 27.5,323.4 28.0,323.7 28.5,324.2 29.0,324.4 29.5,324.8 30.0,324.8 30.5,324.8 31.0,324.8 31.5,324.8 32.0,324.7 32.5,324.7 33.0,324.7 33.5,324.9 34.0,324.7 34.5,324.7 35.0,324.7 35.5,324.9 36.0,324.9 36.5,324.8 37.0,324.7 37.5,324.7 38.0,324.8 38.5,324.8 39.0,324.7 39.5,324.8 40.0,324.7 40.5,324.9 41.0,324.9 41.5,324.8 42.0,324.7 42.5,324.9 43.0,324.8 43.5,324.8 44.0,324.7 44.5,324.8 45.0,324.8 45.5,324.8 46.0,324.7 46.5,324.8 47.0,324.7 47.5,324.7 48.0,324.7 48.5,324.8 49.0,324.7 49.5,324.7 50.0,324.8 50.5,324.7 51.0,324.8 51.5,324.8 52.0,324.9 52.5,324.8 53.0,324.9 53.5,324.9 54.0,324.8 54.5,324.8 55.0,324.9 55.5,324.7 56.0,324.9 56.5,324.8 57.0,324.7 57.5,324.9 58.0,324.9 58.5,324.8 59.0,324.9 59.5,324.9 60.0,324.7 60.5,324.8 61.0,324.8 61.5,324.9 62.0,324.9 62.5,324.9 63.0,324.8 63.5,324.9 64.0,324.8 64.5,324.8 65.0,324.7 65.5,324.7 66.0,324.7 66.5,324.8 67.0,324.7 67.5,324.9 68.0,324.8 68.5,324.8 69.0,324.8 69.5,324.8 70.0,324.8 70.5,324.7 71.0,324.9 71.5,324.9 72.0,324.8 72.5,324.8 73.0,324.8 73.5,324.7 74.0,324.9 74.5,324.7 75.0,324.7 75.5,324.7 76.0,324.9 76.5,324.7 77.0,324.9 77.5,324.9 78.0,324.8 78.5,324.8 79.0,324.8 79.5,324.8 80.0,324.9 80.5,324.8 81.0,324.8 81.5,324.7 82.0,324.7 82.5,324.7 83.0,324.9 83.5,324.8 84.0,324.8 84.5,324.7 85.0,324.7 85.5,324.7 86.0,324.8 86.5,324.8 87.0,324.8 87.5,324.7 88.0,324.8 88.5,324.8 89.0,324.8 89.5,324.7 90.0,324.9 90.5,324.7 91.0,324.9 91.5,324.9 92.0,324.7 92.5,324.8 93.0,324.9 93.5,324.9 94.0,324.8 94.5,324.7 95.0,324.7 95.5,324.8 96.0,324.5 96.5,324.5 97.0,324.2 97.5,324.2 98.2,323.6 98.4,313.1 98.7,326.1 98.0,324.2 98.5,326.0 99.0,326.2 99.5,326.1 100.0,326.2 100.5,326.1 101.0,326.0 101.5,326.1 102.0,326.0 102.5,325.9 103.0,325.9 103.5,326.0 104.0,326.0 104.5,325.9 105.0,325.9 105.5,325.9 106.0,325.9 106.5,326.0 107.0,325.8 107.5,326.0 108.0,326.0 108.5,325.8 109.0,326.0 109.5,326.0 110.0,326.0 110.5,325.8 111.0,325.8 111.5,325.8 112.0,326.0 112.5,325.9 113.0,325.8 113.5,325.8 114.0,325.8 114.5,325.7 115.0,325.7 115.5,325.9 116.0,325.7 116.5,325.9 117.0,325.7 117.5,325.7 118.0,325.8 118.5,325.7 119.0,325.7 119.5,325.8 120.0,325.8 120.5,325.8 121.0,325.7 121.5,325.8 122.0,325.8 122.5,325.7 123.0,325.7 123.5,325.5 124.0,325.7 124.5,325.6 125.0,325.7 125.5,325.6 126.0,325.6 126.5,325.5 127.0,325.7 127.5,325.5 128.0,325.6 128.5,325.5 129.0,325.5 129.5,325.6 130.0,325.6 130.5,325.5 131.0,325.6 131.5,325.5 132.0,325.5 132.5,325.5 133.0,325.4 133.5,325.4 134.0,325.4 134.5,325.4 135.0,325.2 135.5,325.0 136.0,325.1 136.5,324.9 137.2,324.2 137.4,312.7 137.7,327.8 137.0,324.7 137.5,327.7 138.0,327.7 138.5,327.7 139.0,327.8 139.5,327.7 140.0,327.8 140.5,327.8 141.0,327.8 141.5,327.9 142.0,327.9 142.5,327.8 143.0,327.8 143.5,327.8 144.0,327.8 144.5,327.8 145.0,327.7 145.5,327.8 146.0,328.0 146.5,327.8 147.0,327.9 147.5,327.9 148.0,328.0 148.5,327.8 149.0,327.8 149.5,327.8 150.0,327.9 150.5,327.9 151.0,328.0 151.5,328.0 152.0,328.0 152.5,327.8 153.0,327.8 153.5,328.0 154.0,328.0 154.5,327.9 155.0,327.9 155.5,327.8 156.0,327.9 156.5,328.0 157.0,328.0 157.5,328.0 158.0,328.0 158.5,327.9 159.0,327.8 159.5,327.9 160.0,328.0 160.5,328.0 161.0,328.1 161.5,328.0 162.0,328.0 162.5,328.0 163.0,328.0 163.5,328.0 164.0,327.9 164.5,328.0 165.0,327.9 165.5,328.1 166.0,328.0 166.5,327.9 167.0,327.9 167.5,327.9 168.0,328.0 168.5,328.1 169.0,327.9 169.5,327.9 170.0,328.0 170.5,328.0 171.0,328.0 171.5,328.0 172.0,328.0 172.5,327.9 173.0,328.0 173.5,328.0 174.0,328.1 174.5,328.1 175.0,328.1 175.5,328.0 176.0,328.0 176.5,328.0 177.0,328.2 177.5,328.1 178.0,328.0 178.5,328.0 179.0,328.1 179.5,328.1 180.0,328.1 180.5,328.0 181.0,328.1 181.5,328.2 182.0,328.0 182.5,328.0 183.0,328.1 183.5,328.1" fill="none" stroke="#4a4aee" stroke-width="0.9"/>
<path d="M8.5,342.6 9.0,342.5 9.5,342.6 10.0,342.6 10.5,342.5 11.0,342.5 11.5,342.6 12.0,342.4 12.5,342.6 13.0,342.4 13.5,342.4 14.0,342.5 14.5,342.4 15.0,342.5 15.5,342.4 16.0,342.3 16.5,342.3 17.0,342.3 17.5,342.4 18.0,342.4 18.5,342.2 19.0,342.2 19.5,342.2 20.0,342.4 20.5,342.1 21.0,342.1 21.5,342.1 22.0,342.1 22.5,342.3 23.0,342.2 23.5,342.2 24.0,342.2 24.5,342.1 25.0,341.9 25.5,341.5 26.0,341.0 26.5,340.2 27.0,339.4 27.5,341.3 28.0,341.7 28.5,342.4 29.0,343.0 29.5,343.3 30.0,343.4 30.5,343.5 31.0,343.6 31.5,343.7 32.0,343.5 32.5,343.7 33.0,343.5 33.5,343.6 34.0,343.7 34.5,343.7 35.0,343.6 35.5,343.5 36.0,343.6 36.5,343.6 37.0,343.7 37.5,343.5 38.0,343.6 38.5,343.7 39.0,343.5 39.5,343.6 40.0,343.7 40.5,343.7 41.0,343.5 41.5,343.5 42.0,343.5 42.5,343.7 43.0,343.5 43.5,343.7 44.0,343.7 44.5,343.6 45.0,343.5 45.5,343.7 46.0,343.6 46.5,343.5 47.0,343.7 47.5,343.6 48.0,343.5 48.5,343.5 49.0,343.7 49.5,343.7 50.0,343.6 50.5,343.7 51.0,343.5 51.5,343.5 52.0,343.6 52.5,343.7 53.0,343.7 53.5,343.6 54.0,343.5 54.5,343.6 55.0,343.6 55.5,343.7 56.0,343.5 56.5,343.7 57.0,343.7 57.5,343.7 58.0,343.7 58.5,343.6 59.0,343.6 59.5,343.6 60.0,343.6 60.5,343.7 61.0,343.5 61.5,343.5 62.0,343.7 62.5,343.5 63.0,343.5 63.5,343.5 64.0,343.6 64.5,343.6 65.0,343.7 65.5,343.7 66.0,343.7 66.5,343.5 67.0,343.5 67.5,343.5 68.0,343.6 68.5,343.7 69.0,343.6 69.5,343.5 70.0,343.6 70.5,343.6 71.0,343.6 71.5,343.7 72.0,343.7 72.5,343.6 73.0,343.5 73.5,343.7 74.0,343.6 74.5,343.6 75.0,343.6 75.5,343.7 76.0,343.5 76.5,343.5 77.0,343.5 77.5,343.5 78.0,343.7 78.5,343.6 79.0,343.6 79.5,343.6 80.0,343.7 80.5,343.6 81.0,343.5 81.5,343.7 82.0,343.6 82.5,343.7 83.0,343.5 83.5,343.6 84.0,343.7 84.5,343.7 85.0,343.7 85.5,343.5 86.0,343.6 86.5,343.5 87.0,343.5 87.5,343.7 88.0,343.6 88.5,343.7 89.0,343.6 89.5,343.7 90.0,343.6 90.5,343.5 91.0,343.7 91.5,343.7 92.0,343.5 92.5,343.6 93.0,343.6 93.5,343.5 94.0,343.6 94.5,343.5 95.0,343.5 95.5,343.4 96.0,343.4 96.5,343.3 97.0,343.1 97.5,342.9 98.2,342.4 98.4,329.9 98.7,344.6 98.0,342.9 98.5,344.6 99.0,344.5 99.5,344.5 100.0,344.5 100.5,344.7 101.0,344.6 101.5,344.5 102.0,344.5 102.5,344.5 103.0,344.6 103.5,344.6 104.0,344.5 104.5,344.5 105.0,344.6 105.5,344.5 106.0,344.5 106.5,344.5 107.0,344.6 107.5,344.5 108.0,344.5 108.5,344.5 109.0,344.5 109.5,344.6 110.0,344.6 110.5,344.5 111.0,344.4 111.5,344.6 112.0,344.4 112.5,344.4 113.0,344.6 113.5,344.5 114.0,344.6 114.5,344.5 115.0,344.6 115.5,344.5 116.0,344.4 116.5,344.3 117.0,344.5 117.5,344.5 118.0,344.5 118.5,344.3 119.0,344.5 119.5,344.4 120.0,344.4 120.5,344.3 121.0,344.4 121.5,344.4 122.0,344.5 122.5,344.3 123.0,344.4 123.5,344.5 124.0,344.5 124.5,344.3 125.0,344.3 125.5,344.5 126.0,344.5 126.5,344.4 127.0,344.3 127.5,344.5 128.0,344.3 128.5,344.5 129.0,344.4 129.5,344.4 130.0,344.3 130.5,344.4 131.0,344.3 131.5,344.3 132.0,344.4 132.5,344.4 133.0,344.3 133.5,344.3 134.0,344.3 134.5,344.2 135.0,344.1 135.5,343.9 136.0,343.8 136.5,343.8 137.2,343.1 137.4,332.6 137.7,346.4 137.0,343.7 137.5,346.3 138.0,346.4 138.5,346.5 139.0,346.3 139.5,346.5 140.0,346.3 140.5,346.5 141.0,346.4 141.5,346.5 142.0,346.4 142.5,346.4 143.0,346.5 143.5,346.4 144.0,346.5 144.5,346.4 145.0,346.5 145.5,346.4 146.0,346.5 146.5,346.5 147.0,346.4 147.5,346.6 148.0,346.6 148.5,346.5 149.0,346.4 149.5,346.5 150.0,346.4 150.5,346.4 151.0,346.5 151.5,346.4 152.0,346.5 152.5,346.5 153.0,346.4 153.5,346.6 154.0,346.4 154.5,346.6 155.0,346.6 155.5,346.6 156.0,346.5 156.5,346.6 157.0,346.5 157.5,346.7 158.0,346.5 158.5,346.7 159.0,346.7 159.5,346.6 160.0,346.7 160.5,346.5 161.0,346.7 161.5,346.6 162.0,346.7 162.5,346.7 163.0,346.5 163.5,346.7 164.0,346.7 164.5,346.5 165.0,346.6 165.5,346.7 166.0,346.6 166.5,346.7 167.0,346.6 167.5,346.7 168.0,346.6 168.5,346.7 169.0,346.8 169.5,346.6 170.0,346.6 170.5,346.7 171.0,346.6 171.5,346.6 172.0,346.6 172.5,346.6 173.0,346.8 173.5,346.8 174.0,346.8 174.5,346.6 175.0,346.8 175.5,346.6 176.0,346.7 176.5,346.8 177.0,346.7 177.5,346.8 178.0,346.8 178.5,346.8 179.0,346.9 179.5,346.7 180.0,346.9 180.5,346.8 181.0,346.8 181.5,346.9 182.0,346.7 182.5,346.9 183.0,346.8 183.5,346.8" fill="none" stroke="#ee4444" stroke-width="0.9"/>
<path d="M8.5,361.5 9.0,361.4 9.5,361.3 10.0,361.4 10.5,361.2 11.0,361.4 11.5,361.2 12.0,361.3 12.5,361.4 13.0,361.3 13.5,361.3 14.0,361.2 14.5,361.1 15.0,361.1 15.5,361.1 16.0,361.2 16.5,361.1 17.0,361.1 17.5,361.2 18.0,361.0 18.5,361.0 19.0,361.1 19.5,360.9 20.0,360.9 20.5,361.0 21.0,360.9 21.5,361.0 22.0,360.9 22.5,361.0 23.0,361.0 23.5,360.9 24.0,360.9 24.5,360.8 25.0,360.6 25.5,360.5 26.0,359.7 26.5,358.9 27.0,358.2 27.5,360.0 28.0,360.6 28.5,361.2 29.0,361.7 29.5,362.0 30.0,362.1 30.5,362.3 31.0,362.3 31.5,362.3 32.0,362.3 32.5,362.3 33.0,362.4 33.5,362.4 34.0,362.2 34.5,362.4 35.0,362.2 35.5,362.3 36.0,362.3 36.5,362.2 37.0,362.2 37.5,362.4 38.0,362.2 38.5,362.3 39.0,362.4 39.5,362.2 40.0,362.2 40.5,362.3 41.0,362.3 41.5,362.3 42.0,362.4 42.5,362.2 43.0,362.3 43.5,362.3 44.0,362.2 44.5,362.4 45.0,362.4 45.5,362.4 46.0,362.2 46.5,362.4 47.0,362.4 47.5,362.3 48.0,362.4 48.5,362.3 49.0,362.2 49.5,362.2 50.0,362.2 50.5,362.2 51.0,362.3 51.5,362.4 52.0,362.3 52.5,362.4 53.0,362.4 53.5,362.2 54.0,362.3 54.5,362.3 55.0,362.4 55.5,362.3 56.0,362.2 56.5,362.3 57.0,362.4 57.5,362.2 58.0,362.4 58.5,362.2 59.0,362.2 59.5,362.2 60.0,362.4 60.5,362.4 61.0,362.4 61.5,362.3 62.0,362.4 62.5,362.3 63.0,362.2 63.5,362.4 64.0,362.3 64.5,362.3 65.0,362.3 65.5,362.4 66.0,362.3 66.5,362.4 67.0,362.3 67.5,362.4 68.0,362.3 68.5,362.4 69.0,362.3 69.5,362.3 70.0,362.2 70.5,362.3 71.0,362.2 71.5,362.4 72.0,362.2 72.5,362.2 73.0,362.2 73.5,362.4 74.0,362.3 74.5,362.2 75.0,362.2 75.5,362.2 76.0,362.3 76.5,362.3 77.0,362.3 77.5,362.4 78.0,362.2 78.5,362.3 79.0,362.3 79.5,362.4 80.0,362.4 80.5,362.4 81.0,362.2 81.5,362.4 82.0,362.4 82.5,362.4 83.0,362.2 83.5,362.2 84.0,362.2 84.5,362.2 85.0,362.4 85.5,362.4 86.0,362.3 86.5,362.4 87.0,362.3 87.5,362.2 88.0,362.2 88.5,362.2 89.0,362.4 89.5,362.2 90.0,362.3 90.5,362.3 91.0,362.2 91.5,362.2 92.0,362.2 92.5,362.4 93.0,362.3 93.5,362.3 94.0,362.4 94.5,362.3 95.0,362.4 95.5,362.2 96.0,362.0 96.5,361.9 97.0,361.8 97.5,361.8 98.2,361.1 98.4,348.6 98.7,363.5 98.0,361.6 98.5,363.5 99.0,363.5 99.5,363.4 100.0,363.6 100.5,363.4 101.0,363.5 101.5,363.4 102.0,363.3 102.5,363.4 103.0,363.5 103.5,363.5 104.0,363.3 104.5,363.4 105.0,363.4 105.5,363.5 106.0,363.3 106.5,363.4 107.0,363.4 107.5,363.5 108.0,363.3 108.5,363.5 109.0,363.3 109.5,363.3 110.0,363.4 110.5,363.3 111.0,363.2 111.5,363.4 112.0,363.2 112.5,363.4 113.0,363.4 113.5,363.4 114.0,363.3 114.5,363.3 115.0,363.3 115.5,363.3 116.0,363.4 116.5,363.2 117.0,363.4 117.5,363.1 118.0,363.2 118.5,363.2 119.0,363.3 119.5,363.2 120.0,363.2 120.5,363.3 121.0,363.1 121.5,363.2 122.0,363.2 122.5,363.3 123.0,363.2 123.5,363.2 124.0,363.1 124.5,363.1 125.0,363.1 125.5,363.2 126.0,363.2 126.5,363.2 127.0,363.1 127.5,363.1 128.0,363.2 128.5,363.1 129.0,363.0 129.5,363.1 130.0,363.2 130.5,363.0 131.0,363.0 131.5,363.0 132.0,363.1 132.5,363.1 133.0,363.0 133.5,363.0 134.0,363.0 134.5,362.9 135.0,362.8 135.5,362.6 136.0,362.5 136.5,362.3 137.2,361.8 137.4,352.8 137.7,365.2 137.0,362.4 137.5,365.3 138.0,365.1 138.5,365.3 139.0,365.1 139.5,365.2 140.0,365.4 140.5,365.3 141.0,365.3 141.5,365.3 142.0,365.2 142.5,365.3 143.0,365.2 143.5,365.2 144.0,365.3 144.5,365.2 145.0,365.3 145.5,365.4 146.0,365.4 146.5,365.4 147.0,365.4 147.5,365.4 148.0,365.3 148.5,365.4 149.0,365.4 149.5,365.5 150.0,365.5 150.5,365.4 151.0,365.5 151.5,365.5 152.0,365.4 152.5,365.4 153.0,365.5 153.5,365.6 154.0,365.6 154.5,365.5 155.0,365.6 155.5,365.6 156.0,365.6 156.5,365.5 157.0,365.5 157.5,365.6 158.0,365.5 158.5,365.5 159.0,365.6 159.5,365.6 160.0,365.6 160.5,365.5 161.0,365.6 161.5,365.6 162.0,365.7 162.5,365.6 163.0,365.7 163.5,365.8 164.0,365.6 164.5,365.7 165.0,365.7 165.5,365.7 166.0,365.7 166.5,365.8 167.0,365.6 167.5,365.7 168.0,365.6 168.5,365.8 169.0,365.9 169.5,365.8 170.0,365.7 170.5,365.8 171.0,365.8 171.5,365.8 172.0,365.8 172.5,365.8 173.0,365.9 173.5,365.8 174.0,365.8 174.5,366.0 175.0,365.8 175.5,365.9 176.0,365.8 176.5,365.9 177.0,365.8 177.5,366.0 178.0,365.9 178.5,365.8 179.0,365.9 179.5,365.9 180.0,365.8 180.5,365.9 181.0,365.9 181.5,366.0 182.0,365.9 182.5,365.9 183.0,365.9 183.5,366.1" fill="none" stroke="#444444" stroke-width="0.9"/>
<text x="52.4" y="302.4" font-size="7.4" class="b">POSS0</text>
<text x="52.4" y="320.6" font-size="7.4" class="b">POSS2</text>
<text x="52.4" y="336.6" font-size="7.4" class="b">POSS5</text>
<text x="52.4" y="355.2" font-size="7.4" class="b">POSS10</text>
<line x1="8.3" y1="377.1" x2="183" y2="377.1" stroke="#333" stroke-width="0.9"/>
<line x1="182.40" y1="377.1" x2="182.40" y2="379.1" stroke="#333" stroke-width="0.8"/>
<text x="182.40" y="385.8" font-size="7.5" class="b" text-anchor="middle">0</text>
<line x1="166.68" y1="377.1" x2="166.68" y2="378.3" stroke="#333" stroke-width="0.8"/>
<line x1="150.96" y1="377.1" x2="150.96" y2="379.1" stroke="#333" stroke-width="0.8"/>
<text x="150.96" y="385.8" font-size="7.5" class="b" text-anchor="middle">200</text>
<line x1="135.24" y1="377.1" x2="135.24" y2="378.3" stroke="#333" stroke-width="0.8"/>
<line x1="119.52" y1="377.1" x2="119.52" y2="379.1" stroke="#333" stroke-width="0.8"/>
<text x="119.52" y="385.8" font-size="7.5" class="b" text-anchor="middle">400</text>
<line x1="103.80" y1="377.1" x2="103.80" y2="378.3" stroke="#333" stroke-width="0.8"/>
<line x1="88.08" y1="377.1" x2="88.08" y2="379.1" stroke="#333" stroke-width="0.8"/>
<text x="88.08" y="385.8" font-size="7.5" class="b" text-anchor="middle">600</text>
<line x1="72.36" y1="377.1" x2="72.36" y2="378.3" stroke="#333" stroke-width="0.8"/>
<line x1="56.64" y1="377.1" x2="56.64" y2="379.1" stroke="#333" stroke-width="0.8"/>
<text x="56.64" y="385.8" font-size="7.5" class="b" text-anchor="middle">800</text>
<line x1="40.92" y1="377.1" x2="40.92" y2="378.3" stroke="#333" stroke-width="0.8"/>
<line x1="25.20" y1="377.1" x2="25.20" y2="379.1" stroke="#333" stroke-width="0.8"/>
<text x="25.20" y="385.8" font-size="7.5" class="b" text-anchor="middle">1000</text>
<line x1="9.48" y1="377.1" x2="9.48" y2="378.3" stroke="#333" stroke-width="0.8"/>
<text x="52.7" y="400.6" font-size="10.9" class="b">Binding Energy (eV)</text>
<text x="3.6" y="434.6" font-size="18.5" class="b">c</text>
<text x="56" y="418" font-size="7.4" class="b">N&#160;&#160;1s</text>
<line x1="76.5" y1="410.5" x2="76.5" y2="519" stroke="#f04040" stroke-width="0.9" stroke-dasharray="1.2 2.2"/>
<path d="M16.8,437.1 17.6,438.6 18.4,437.7 19.2,438.9 20.0,439.0 20.8,436.2 21.6,435.9 22.4,440.0 23.2,437.1 24.0,437.0 24.8,440.8 25.6,438.2 26.4,440.0 27.2,438.2 28.0,439.0 28.8,436.6 29.6,439.0 30.4,440.1 31.2,438.4 32.0,439.5 32.8,439.1 33.6,436.1 34.4,439.6 35.2,438.7 36.0,437.3 36.8,435.9 37.6,440.1 38.4,438.1 39.2,439.3 40.0,440.1 40.8,439.3 41.6,440.3 42.4,437.7 43.2,439.7 44.0,437.9 44.8,440.4 45.6,440.1 46.4,436.2 47.2,436.3 48.0,436.7 48.8,440.5 49.6,437.8 50.4,438.8 51.2,437.1 52.0,438.2 52.8,437.6 53.6,437.4 54.4,438.5 55.2,438.5 56.0,440.1 56.8,439.0 57.6,440.2 58.4,439.9 59.2,440.5 60.0,438.9 60.8,436.4 61.6,439.9 62.4,440.4 63.2,440.1 64.0,438.4 64.8,439.1 65.6,436.6 66.4,439.6 67.2,438.3 68.0,436.7 68.8,435.2 69.6,438.6 70.4,438.4 71.2,432.5 72.0,434.3 72.8,430.5 73.6,427.6 74.4,427.2 75.2,429.3 76.0,430.5 76.8,427.8 77.6,432.4 78.4,431.4 79.2,436.4 80.0,435.7 80.8,439.4 81.6,440.7 82.4,438.9 83.2,441.5 84.0,437.9 84.8,436.3 85.6,438.6 86.4,435.6 87.2,436.4 88.0,437.4 88.8,438.4 89.6,436.1 90.4,435.6 91.2,439.7 92.0,436.9 92.8,440.1 93.6,439.8 94.4,437.2 95.2,437.6 96.0,437.9 96.8,438.5 97.6,438.3 98.4,438.1 99.2,438.4 100.0,440.0 100.8,437.8 101.6,437.4 102.4,438.9 103.2,436.4 104.0,436.7 104.8,440.1 105.6,437.8 106.4,438.0 107.2,435.3 108.0,437.3 108.8,438.1 109.6,435.3 110.4,438.3 111.2,438.3 112.0,435.5 112.8,438.3 113.6,437.5 114.4,438.6 115.2,436.9 116.0,438.7 116.8,438.8 117.6,435.2 118.4,435.4 119.2,438.5 120.0,439.9 120.8,436.4 121.6,437.4 122.4,438.1 123.2,436.7 124.0,436.9 124.8,436.6 125.6,436.9 126.4,438.0 127.2,436.6 128.0,436.9 128.8,438.9 129.6,435.2 130.4,437.9 131.2,438.7 132.0,436.6 132.8,436.1 133.6,439.0 134.4,436.2 135.2,435.9 136.0,437.2 136.8,438.5 137.6,435.5 138.4,436.6 139.2,436.6 140.0,439.1 140.8,437.1 141.6,439.2 142.4,435.8 143.2,436.6 144.0,438.2 144.8,439.4 145.6,437.2 146.4,436.0 147.2,435.5 148.0,437.6" fill="none" stroke="#55dd55" stroke-width="0.8"/>
<path d="M16.8,459.9 17.6,459.2 18.4,460.7 19.2,459.4 20.0,459.0 20.8,460.6 21.6,463.2 22.4,462.6 23.2,462.4 24.0,459.7 24.8,461.2 25.6,459.9 26.4,459.4 27.2,459.1 28.0,459.6 28.8,463.1 29.6,462.6 30.4,462.5 31.2,462.4 32.0,459.4 32.8,460.0 33.6,461.5 34.4,462.0 35.2,462.6 36.0,462.7 36.8,458.7 37.6,461.3 38.4,461.6 39.2,460.7 40.0,459.1 40.8,460.5 41.6,458.5 42.4,462.7 43.2,462.3 44.0,460.7 44.8,459.4 45.6,462.4 46.4,460.6 47.2,462.1 48.0,461.9 48.8,460.1 49.6,459.5 50.4,460.4 51.2,459.4 52.0,458.0 52.8,458.6 53.6,461.1 54.4,457.2 55.2,457.1 56.0,459.9 56.8,458.1 57.6,459.3 58.4,459.0 59.2,458.3 60.0,461.5 60.8,457.5 61.6,458.5 62.4,457.4 63.2,459.6 64.0,457.8 64.8,458.1 65.6,460.0 66.4,457.7 67.2,458.7 68.0,460.0 68.8,455.4 69.6,454.4 70.4,454.2 71.2,455.5 72.0,453.4 72.8,450.0 73.6,449.1 74.4,447.3 75.2,448.0 76.0,445.9 76.8,449.6 77.6,451.6 78.4,453.2 79.2,453.6 80.0,456.3 80.8,453.1 81.6,455.7 82.4,460.1 83.2,459.9 84.0,458.6 84.8,461.7 85.6,460.3 86.4,461.4 87.2,458.9 88.0,458.4 88.8,459.7 89.6,458.1 90.4,459.3 91.2,462.2 92.0,459.0 92.8,457.2 93.6,457.1 94.4,457.3 95.2,459.8 96.0,457.1 96.8,456.0 97.6,454.6 98.4,458.7 99.2,456.1 100.0,455.4 100.8,455.3 101.6,455.9 102.4,457.1 103.2,460.0 104.0,457.7 104.8,457.3 105.6,459.6 106.4,458.4 107.2,462.2 108.0,457.8 108.8,459.8 109.6,461.0 110.4,459.2 111.2,462.1 112.0,459.5 112.8,458.3 113.6,459.1 114.4,457.3 115.2,459.2 116.0,458.3 116.8,461.5 117.6,461.2 118.4,459.5 119.2,457.1 120.0,458.2 120.8,458.2 121.6,458.0 122.4,458.1 123.2,461.3 124.0,457.6 124.8,457.1 125.6,461.5 126.4,459.7 127.2,461.8 128.0,458.9 128.8,461.3 129.6,460.1 130.4,460.8 131.2,460.5 132.0,459.2 132.8,457.2 133.6,457.8 134.4,461.1 135.2,461.2 136.0,461.3 136.8,458.4 137.6,460.0 138.4,460.7 139.2,459.9 140.0,460.7 140.8,459.3 141.6,459.9 142.4,460.0 143.2,457.9 144.0,461.2 144.8,461.3 145.6,456.9 146.4,461.4 147.2,461.3 148.0,459.8" fill="none" stroke="#5a5aee" stroke-width="0.8"/>
<path d="M16.8,491.0 17.6,491.6 18.4,491.9 19.2,492.6 20.0,491.6 20.8,492.5 21.6,488.0 22.4,490.2 23.2,492.6 24.0,491.1 24.8,492.3 25.6,488.4 26.4,490.2 27.2,489.0 28.0,490.5 28.8,490.7 29.6,487.8 30.4,488.9 31.2,489.2 32.0,492.3 32.8,491.6 33.6,488.5 34.4,491.7 35.2,488.4 36.0,490.8 36.8,488.4 37.6,487.7 38.4,492.1 39.2,488.7 40.0,488.8 40.8,492.6 41.6,492.0 42.4,489.1 43.2,492.5 44.0,490.3 44.8,491.0 45.6,488.7 46.4,492.3 47.2,491.1 48.0,492.4 48.8,492.1 49.6,489.1 50.4,489.4 51.2,488.4 52.0,488.3 52.8,487.9 53.6,489.1 54.4,490.6 55.2,487.6 56.0,490.9 56.8,489.2 57.6,489.1 58.4,491.6 59.2,489.9 60.0,489.0 60.8,489.8 61.6,490.9 62.4,487.5 63.2,491.9 64.0,486.9 64.8,490.2 65.6,490.1 66.4,485.2 67.2,488.2 68.0,484.9 68.8,484.5 69.6,480.0 70.4,478.4 71.2,477.1 72.0,479.0 72.8,473.4 73.6,474.7 74.4,474.4 75.2,473.7 76.0,470.6 76.8,471.1 77.6,472.8 78.4,475.4 79.2,473.8 80.0,478.9 80.8,481.1 81.6,483.3 82.4,480.9 83.2,487.0 84.0,484.0 84.8,486.3 85.6,488.4 86.4,490.6 87.2,488.1 88.0,491.3 88.8,489.6 89.6,488.6 90.4,488.7 91.2,488.0 92.0,487.6 92.8,487.9 93.6,490.6 94.4,492.2 95.2,488.0 96.0,487.4 96.8,492.1 97.6,489.8 98.4,489.2 99.2,488.3 100.0,490.1 100.8,491.3 101.6,489.4 102.4,489.2 103.2,487.4 104.0,491.7 104.8,487.3 105.6,489.6 106.4,491.3 107.2,487.7 108.0,490.7 108.8,491.8 109.6,490.2 110.4,491.0 111.2,487.6 112.0,489.2 112.8,487.8 113.6,491.2 114.4,488.5 115.2,489.3 116.0,492.0 116.8,491.2 117.6,491.9 118.4,489.2 119.2,489.4 120.0,490.6 120.8,489.3 121.6,488.4 122.4,489.0 123.2,487.7 124.0,488.8 124.8,491.9 125.6,491.7 126.4,490.0 127.2,489.4 128.0,488.6 128.8,487.3 129.6,488.2 130.4,490.8 131.2,491.2 132.0,488.7 132.8,490.8 133.6,490.7 134.4,490.3 135.2,490.1 136.0,490.6 136.8,488.6 137.6,490.3 138.4,488.2 139.2,489.2 140.0,490.6 140.8,490.2 141.6,488.2 142.4,491.5 143.2,490.0 144.0,489.6 144.8,486.8 145.6,489.5 146.4,488.0 147.2,490.1 148.0,489.0" fill="none" stroke="#ee4a4a" stroke-width="0.8"/>
<path d="M16.8,515.5 17.6,515.6 18.4,513.9 19.2,512.8 20.0,511.5 20.8,514.8 21.6,513.9 22.4,515.3 23.2,513.4 24.0,515.4 24.8,512.9 25.6,515.5 26.4,515.2 27.2,513.6 28.0,514.2 28.8,515.0 29.6,512.5 30.4,514.3 31.2,515.6 32.0,512.9 32.8,515.6 33.6,515.0 34.4,515.8 35.2,513.3 36.0,512.1 36.8,515.6 37.6,515.6 38.4,513.8 39.2,512.1 40.0,512.6 40.8,514.8 41.6,513.1 42.4,516.4 43.2,514.5 44.0,512.6 44.8,514.8 45.6,513.3 46.4,516.2 47.2,516.0 48.0,514.0 48.8,514.6 49.6,514.8 50.4,515.3 51.2,516.0 52.0,511.2 52.8,512.7 53.6,513.8 54.4,512.2 55.2,513.5 56.0,510.9 56.8,514.8 57.6,512.9 58.4,510.8 59.2,513.5 60.0,511.8 60.8,511.2 61.6,512.7 62.4,511.0 63.2,511.5 64.0,514.8 64.8,514.1 65.6,510.8 66.4,514.7 67.2,510.9 68.0,512.3 68.8,514.8 69.6,512.8 70.4,510.2 71.2,509.1 72.0,507.2 72.8,503.7 73.6,505.9 74.4,499.4 75.2,500.1 76.0,501.5 76.8,500.5 77.6,505.0 78.4,503.4 79.2,509.3 80.0,511.0 80.8,511.6 81.6,514.1 82.4,512.8 83.2,515.3 84.0,515.5 84.8,514.2 85.6,514.1 86.4,515.3 87.2,513.9 88.0,512.3 88.8,515.6 89.6,513.2 90.4,514.3 91.2,515.8 92.0,512.7 92.8,512.0 93.6,512.5 94.4,514.8 95.2,513.7 96.0,513.1 96.8,514.1 97.6,516.5 98.4,513.1 99.2,513.9 100.0,516.3 100.8,514.9 101.6,513.2 102.4,514.3 103.2,514.3 104.0,512.6 104.8,513.8 105.6,513.4 106.4,515.9 107.2,513.5 108.0,515.2 108.8,516.8 109.6,516.5 110.4,513.8 111.2,514.9 112.0,513.5 112.8,513.9 113.6,514.4 114.4,515.9 115.2,516.6 116.0,513.4 116.8,512.0 117.6,514.2 118.4,512.2 119.2,512.1 120.0,515.8 120.8,512.5 121.6,515.6 122.4,513.8 123.2,516.7 124.0,516.3 124.8,512.3 125.6,513.0 126.4,516.7 127.2,515.1 128.0,514.1 128.8,515.9 129.6,516.1 130.4,514.5 131.2,514.4 132.0,512.5 132.8,513.8 133.6,512.8 134.4,515.2 135.2,515.1 136.0,512.8 136.8,515.2 137.6,512.5 138.4,512.5 139.2,515.2 140.0,514.1 140.8,516.0 141.6,514.2 142.4,514.1 143.2,510.9 144.0,514.2 144.8,510.7 145.6,513.7 146.4,515.7 147.2,516.1 148.0,516.3" fill="none" stroke="#555555" stroke-width="0.8"/>
<text x="102.3" y="428.6" font-size="7.4" class="b">POSS0</text>
<text x="102.3" y="453.8" font-size="7.4" class="b">POSS2</text>
<text x="102.3" y="481.5" font-size="7.4" class="b">POSS5</text>
<text x="102.3" y="508.0" font-size="7.4" class="b">POSS10</text>
<line x1="16.3" y1="519.3" x2="163.6" y2="519.3" stroke="#333" stroke-width="0.9"/>
<line x1="162.90" y1="519.3" x2="162.90" y2="521.3" stroke="#333" stroke-width="0.8"/>
<text x="162.90" y="529" font-size="7.6" class="b" text-anchor="middle">390</text>
<line x1="148.26" y1="519.3" x2="148.26" y2="520.5" stroke="#333" stroke-width="0.8"/>
<line x1="133.62" y1="519.3" x2="133.62" y2="521.3" stroke="#333" stroke-width="0.8"/>
<text x="133.62" y="529" font-size="7.6" class="b" text-anchor="middle">394</text>
<line x1="118.98" y1="519.3" x2="118.98" y2="520.5" stroke="#333" stroke-width="0.8"/>
<line x1="104.34" y1="519.3" x2="104.34" y2="521.3" stroke="#333" stroke-width="0.8"/>
<text x="104.34" y="529" font-size="7.6" class="b" text-anchor="middle">398</text>
<line x1="89.70" y1="519.3" x2="89.70" y2="520.5" stroke="#333" stroke-width="0.8"/>
<line x1="75.06" y1="519.3" x2="75.06" y2="521.3" stroke="#333" stroke-width="0.8"/>
<text x="75.06" y="529" font-size="7.6" class="b" text-anchor="middle">402</text>
<line x1="60.42" y1="519.3" x2="60.42" y2="520.5" stroke="#333" stroke-width="0.8"/>
<line x1="45.78" y1="519.3" x2="45.78" y2="521.3" stroke="#333" stroke-width="0.8"/>
<text x="45.78" y="529" font-size="7.6" class="b" text-anchor="middle">406</text>
<line x1="31.14" y1="519.3" x2="31.14" y2="520.5" stroke="#333" stroke-width="0.8"/>
<line x1="16.50" y1="519.3" x2="16.50" y2="521.3" stroke="#333" stroke-width="0.8"/>
<text x="16.50" y="529" font-size="7.6" class="b" text-anchor="middle">410</text>
<text x="52.7" y="545.6" font-size="10.9" class="b">Binding Energy (eV)</text>
<text x="185.8" y="434.2" font-size="18" class="b">d</text>
<line x1="217.7" y1="408" x2="217.7" y2="513" stroke="#f04040" stroke-width="0.9" stroke-dasharray="1.2 2.2"/>
<line x1="237.2" y1="408" x2="237.2" y2="513" stroke="#f04040" stroke-width="0.9" stroke-dasharray="1.2 2.2"/>
<line x1="305.7" y1="408" x2="305.7" y2="513" stroke="#f04040" stroke-width="0.9" stroke-dasharray="1.2 2.2"/>
<text x="201.2" y="418.4" font-size="7.2" class="b">S 2p</text>
<text x="241.6" y="418.4" font-size="7.2" class="b">Si 2s</text>
<text x="309.2" y="418.4" font-size="7.2" class="b">Si 2p</text>
<path d="M194.5,427.0 195.0,427.0 195.5,427.0 196.0,427.7 196.5,427.6 197.0,427.6 197.5,427.6 198.0,427.9 198.5,427.7 199.0,427.3 199.5,427.0 200.0,426.8 200.5,426.5 201.0,427.0 201.5,426.7 202.0,427.2 202.5,427.6 203.0,427.8 203.5,427.8 204.0,427.8 204.5,428.0 205.0,427.5 205.5,427.8 206.0,427.2 206.5,427.3 207.0,426.7 207.5,426.7 208.0,426.6 208.5,426.9 209.0,427.0 209.5,427.1 210.0,427.9 210.5,427.8 211.0,427.8 211.5,427.9 212.0,427.9 212.5,427.6 213.0,427.5 213.5,427.2 214.0,426.8 214.5,426.9 215.0,426.6 215.5,425.7 216.0,425.9 216.5,425.5 217.0,425.0 217.5,424.3 218.0,424.8 218.5,424.9 219.0,424.9 219.5,425.4 220.0,426.5 220.5,426.6 221.0,426.5 221.5,426.5 222.0,426.7 222.5,426.9 223.0,427.6 223.5,427.6 224.0,427.7 224.5,428.4 225.0,428.4 225.5,428.0 226.0,428.4 226.5,427.9 227.0,427.8 227.5,427.5 228.0,427.4 228.5,427.3 229.0,427.4 229.5,427.1 230.0,427.6 230.5,427.8 231.0,428.2 231.5,428.1 232.0,428.5 232.5,428.2 233.0,427.7 233.5,427.2 234.0,426.6 234.5,426.1 235.0,425.1 235.5,424.7 236.0,423.9 236.5,423.7 237.0,423.4 237.5,423.5 238.0,423.9 238.5,423.7 239.0,424.8 239.5,425.1 240.0,425.7 240.5,426.2 241.0,426.6 241.5,426.5 242.0,426.7 242.5,427.2 243.0,426.8 243.5,427.5 244.0,427.8 244.5,427.6 245.0,428.3 245.5,428.6 246.0,428.8 246.5,428.4 247.0,428.7 247.5,428.1 248.0,427.9 248.5,427.9 249.0,427.1 249.5,427.5 250.0,427.5 250.5,427.5 251.0,428.1 251.5,428.0 252.0,428.3 252.5,428.6 253.0,428.8 253.5,428.4 254.0,428.4 254.5,428.2 255.0,428.0 255.5,428.0 256.0,427.4 256.5,427.7 257.0,427.5 257.5,427.7 258.0,427.8 258.5,428.2 259.0,428.8 259.5,428.8 260.0,428.9 260.5,428.6 261.0,428.4 261.5,428.2 262.0,428.1 262.5,427.9 263.0,427.8 263.5,427.3 264.0,427.8 264.5,428.1 265.0,428.1 265.5,428.0 266.0,428.4 266.5,428.4 267.0,428.6 267.5,429.1 268.0,428.7 268.5,428.5 269.0,428.3 269.5,428.2 270.0,427.8 270.5,427.8 271.0,427.8 271.5,428.0 272.0,428.2 272.5,428.6 273.0,428.5 273.5,429.0 274.0,428.9 274.5,429.1 275.0,428.4 275.5,428.3 276.0,427.9 276.5,428.2 277.0,428.1 277.5,427.9 278.0,427.8 278.5,428.2 279.0,428.5 279.5,428.6 280.0,428.6 280.5,428.8 281.0,429.0 281.5,428.9 282.0,428.8 282.5,428.7 283.0,428.6 283.5,427.8 284.0,428.0 284.5,427.6 285.0,427.7 285.5,428.3 286.0,428.4 286.5,428.9 287.0,428.9 287.5,428.7 288.0,429.1 288.5,429.1 289.0,429.2 289.5,429.0 290.0,428.4 290.5,428.1 291.0,427.7 291.5,428.1 292.0,427.9 292.5,428.0 293.0,428.1 293.5,428.4 294.0,429.1 294.5,428.9 295.0,429.6 295.5,428.9 296.0,429.3 296.5,428.5 297.0,428.2 297.5,428.4 298.0,427.9 298.5,428.2 299.0,427.9 299.5,428.0 300.0,428.8 300.5,429.0 301.0,429.3 301.5,429.3 302.0,428.7 302.5,428.6 303.0,428.0 303.5,426.9 304.0,426.1 304.5,424.4 305.0,423.9 305.5,423.2 306.0,422.6 306.5,423.1 307.0,424.5 307.5,425.8 308.0,426.5 308.5,427.6 309.0,428.6 309.5,428.6 310.0,429.1 310.5,428.8 311.0,428.3 311.5,428.3 312.0,428.4 312.5,428.2 313.0,428.5 313.5,428.3 314.0,429.0 314.5,429.0 315.0,429.4 315.5,429.6 316.0,429.5 316.5,429.4 317.0,429.5 317.5,429.3 318.0,429.0 318.5,428.6 319.0,428.3 319.5,428.1 320.0,428.8 320.5,428.8 321.0,429.2 321.5,429.1 322.0,429.5 322.5,429.9 323.0,429.9 323.5,429.6 324.0,429.2 324.5,429.1 325.0,429.1 325.5,428.6 326.0,428.6 326.5,428.6 327.0,428.9 327.5,429.0 328.0,428.9 328.5,429.0 329.0,429.4 329.5,429.6 330.0,429.8 330.5,429.9 331.0,429.7 331.5,428.9 332.0,429.2 332.5,429.0 333.0,428.9 333.5,428.6 334.0,428.5 334.5,429.1 335.0,429.4" fill="none" stroke="#66dd66" stroke-width="0.8"/>
<path d="M187.9,447.3 188.4,447.7 188.9,447.6 189.4,447.7 189.9,448.1 190.4,448.3 190.9,447.8 191.4,448.0 191.9,447.9 192.4,447.2 192.9,447.2 193.4,447.1 193.9,447.0 194.4,446.9 194.9,447.1 195.4,447.7 195.9,448.0 196.4,448.0 196.9,447.9 197.4,448.4 197.9,448.3 198.4,447.8 198.9,447.7 199.4,447.7 199.9,447.5 200.4,447.1 200.9,447.1 201.4,447.3 201.9,447.2 202.4,447.5 202.9,447.7 203.4,448.3 203.9,448.2 204.4,448.4 204.9,448.2 205.4,448.0 205.9,447.5 206.4,447.2 206.9,447.7 207.4,447.1 207.9,446.9 208.4,447.4 208.9,447.7 209.4,447.5 209.9,448.1 210.4,448.2 210.9,448.4 211.4,448.1 211.9,448.0 212.4,448.5 212.9,448.1 213.4,447.5 213.9,447.3 214.4,446.7 214.9,446.7 215.4,445.9 215.9,445.5 216.4,444.5 216.9,443.7 217.4,443.1 217.9,442.4 218.4,442.6 218.9,443.5 219.4,444.4 219.9,445.2 220.4,445.9 220.9,446.7 221.4,447.3 221.9,447.2 222.4,447.8 222.9,448.0 223.4,447.7 223.9,448.3 224.4,448.4 224.9,448.3 225.4,448.9 225.9,448.3 226.4,448.4 226.9,448.2 227.4,448.1 227.9,447.7 228.4,447.4 228.9,447.5 229.4,447.4 229.9,448.2 230.4,448.4 230.9,448.1 231.4,448.1 231.9,448.3 232.4,448.1 232.9,448.0 233.4,447.2 233.9,446.0 234.4,443.9 234.9,442.7 235.4,440.7 235.9,438.7 236.4,437.2 236.9,435.2 237.4,434.6 237.9,435.1 238.4,436.0 238.9,437.1 239.4,438.5 239.9,440.5 240.4,442.3 240.9,443.4 241.4,444.7 241.9,445.6 242.4,446.2 242.9,447.0 243.4,447.2 243.9,447.7 244.4,448.0 244.9,448.7 245.4,448.4 245.9,449.1 246.4,448.7 246.9,448.5 247.4,448.9 247.9,448.1 248.4,448.4 248.9,448.1 249.4,448.1 249.9,447.6 250.4,447.9 250.9,447.9 251.4,448.7 251.9,448.9 252.4,449.0 252.9,449.0 253.4,448.9 253.9,449.1 254.4,448.7 254.9,448.5 255.4,447.9 255.9,447.8 256.4,447.6 256.9,448.1 257.4,448.1 257.9,448.0 258.4,448.8 258.9,448.7 259.4,449.0 259.9,448.9 260.4,448.9 260.9,449.2 261.4,448.6 261.9,448.3 262.4,448.2 262.9,447.9 263.4,448.3 263.9,447.7 264.4,448.5 264.9,448.1 265.4,448.9 265.9,449.0 266.4,448.9 266.9,449.2 267.4,449.1 267.9,448.9 268.4,448.6 268.9,448.5 269.4,448.7 269.9,448.5 270.4,448.4 270.9,447.8 271.4,448.1 271.9,448.8 272.4,448.5 272.9,449.2 273.4,449.1 273.9,449.7 274.4,449.0 274.9,449.4 275.4,448.8 275.9,448.4 276.4,448.1 276.9,448.5 277.4,448.2 277.9,448.0 278.4,448.3 278.9,448.9 279.4,448.7 279.9,449.2 280.4,449.1 280.9,449.2 281.4,449.6 281.9,449.4 282.4,448.8 282.9,448.5 283.4,448.2 283.9,448.4 284.4,448.3 284.9,448.2 285.4,448.3 285.9,448.8 286.4,449.1 286.9,449.5 287.4,449.5 287.9,449.3 288.4,449.2 288.9,449.5 289.4,449.1 289.9,449.0 290.4,448.3 290.9,448.7 291.4,448.3 291.9,448.7 292.4,448.8 292.9,448.8 293.4,448.8 293.9,449.6 294.4,449.5 294.9,449.9 295.4,449.4 295.9,449.2 296.4,449.4 296.9,448.9 297.4,448.5 297.9,448.5 298.4,448.5 298.9,448.2 299.4,448.7 299.9,448.9 300.4,449.1 300.9,449.0 301.4,449.3 301.9,448.9 302.4,448.0 302.9,445.9 303.4,443.9 303.9,440.7 304.4,437.8 304.9,434.5 305.4,433.0 305.9,432.5 306.4,433.0 306.9,435.2 307.4,438.2 307.9,441.3 308.4,443.8 308.9,446.7 309.4,447.6 309.9,448.4 310.4,448.6 310.9,448.7 311.4,449.0 311.9,448.4 312.4,448.4 312.9,448.9 313.4,448.7 313.9,448.8 314.4,449.5 314.9,449.7 315.4,449.9 315.9,450.1 316.4,449.6 316.9,450.0 317.4,449.6 317.9,448.9 318.4,448.7 318.9,448.8 319.4,448.8 319.9,448.7 320.4,448.8 320.9,449.2 321.4,449.3 321.9,449.9 322.4,450.2 322.9,449.8 323.4,450.0 323.9,450.0 324.4,449.3 324.9,449.5 325.4,449.4 325.9,448.8 326.4,448.8 326.9,449.2 327.4,449.1 327.9,449.3 328.4,450.0 328.9,450.1 329.4,450.0 329.9,449.9 330.4,450.0 330.9,449.9 331.4,450.0 331.9,449.6 332.4,449.5 332.9,449.2 333.4,449.2 333.9,448.7 334.4,449.2 334.9,449.8" fill="none" stroke="#5a5aee" stroke-width="0.8"/>
<path d="M187.9,474.0 188.4,473.8 188.9,474.2 189.4,474.6 189.9,474.5 190.4,474.7 190.9,474.2 191.4,474.3 191.9,474.1 192.4,473.5 192.9,473.4 193.4,473.8 193.9,473.7 194.4,473.9 194.9,473.9 195.4,474.3 195.9,474.6 196.4,474.8 196.9,474.4 197.4,474.8 197.9,474.5 198.4,474.6 198.9,474.0 199.4,474.0 199.9,474.0 200.4,473.7 200.9,473.4 201.4,473.7 201.9,473.9 202.4,474.5 202.9,474.3 203.4,474.5 203.9,474.9 204.4,474.6 204.9,474.8 205.4,474.9 205.9,474.3 206.4,473.9 206.9,473.8 207.4,473.7 207.9,473.5 208.4,473.6 208.9,473.8 209.4,474.2 209.9,474.5 210.4,474.6 210.9,474.7 211.4,474.7 211.9,474.9 212.4,474.9 212.9,474.4 213.4,474.1 213.9,473.8 214.4,473.1 214.9,473.0 215.4,472.1 215.9,471.1 216.4,470.0 216.9,468.7 217.4,467.8 217.9,467.5 218.4,467.8 218.9,469.0 219.4,470.2 219.9,471.5 220.4,472.0 220.9,472.9 221.4,473.7 221.9,473.5 222.4,474.0 222.9,474.2 223.4,474.4 223.9,475.1 224.4,474.9 224.9,475.3 225.4,474.9 225.9,474.7 226.4,475.1 226.9,474.5 227.4,474.0 227.9,474.0 228.4,474.0 228.9,474.2 229.4,473.9 229.9,474.2 230.4,474.9 230.9,475.0 231.4,474.7 231.9,474.8 232.4,474.6 232.9,474.2 233.4,473.2 233.9,472.0 234.4,470.3 234.9,468.0 235.4,465.9 235.9,463.5 236.4,461.5 236.9,459.7 237.4,459.1 237.9,459.0 238.4,460.0 238.9,461.0 239.4,463.5 239.9,465.1 240.4,467.7 240.9,469.4 241.4,470.8 241.9,472.2 242.4,472.8 242.9,473.3 243.4,474.1 243.9,474.6 244.4,474.8 244.9,475.0 245.4,475.3 245.9,475.4 246.4,475.6 246.9,475.2 247.4,475.0 247.9,474.9 248.4,474.5 248.9,474.3 249.4,474.5 249.9,474.6 250.4,474.5 250.9,474.7 251.4,474.8 251.9,475.1 252.4,475.2 252.9,475.6 253.4,475.6 253.9,475.1 254.4,475.5 254.9,474.8 255.4,474.9 255.9,474.8 256.4,474.8 256.9,474.3 257.4,474.6 257.9,475.1 258.4,474.8 258.9,475.0 259.4,475.6 259.9,475.7 260.4,475.9 260.9,475.7 261.4,475.3 261.9,475.4 262.4,474.8 262.9,474.6 263.4,474.7 263.9,474.5 264.4,474.6 264.9,475.0 265.4,475.1 265.9,475.8 266.4,475.8 266.9,475.8 267.4,475.5 267.9,475.5 268.4,475.3 268.9,475.2 269.4,475.0 269.9,475.0 270.4,475.0 270.9,474.7 271.4,474.8 271.9,475.1 272.4,475.7 272.9,475.5 273.4,475.8 273.9,476.1 274.4,475.6 274.9,475.6 275.4,475.8 275.9,475.5 276.4,475.0 276.9,474.5 277.4,475.0 277.9,474.9 278.4,475.2 278.9,475.5 279.4,475.7 279.9,475.7 280.4,475.7 280.9,475.8 281.4,476.0 281.9,475.8 282.4,475.4 282.9,475.1 283.4,475.2 283.9,475.0 284.4,474.7 284.9,475.2 285.4,475.1 285.9,475.0 286.4,475.5 286.9,476.0 287.4,475.9 287.9,476.2 288.4,475.7 288.9,475.8 289.4,475.9 289.9,475.5 290.4,475.3 290.9,474.8 291.4,474.9 291.9,475.0 292.4,475.0 292.9,475.5 293.4,475.7 293.9,476.3 294.4,476.2 294.9,476.1 295.4,475.9 295.9,475.8 296.4,476.0 296.9,475.3 297.4,475.0 297.9,474.9 298.4,475.1 298.9,475.3 299.4,475.3 299.9,475.7 300.4,475.4 300.9,475.4 301.4,475.7 301.9,474.8 302.4,473.7 302.9,471.3 303.4,468.0 303.9,464.2 304.4,459.9 304.9,456.6 305.4,453.7 305.9,452.6 306.4,453.8 306.9,456.6 307.4,460.3 307.9,465.2 308.4,468.8 308.9,472.0 309.4,473.6 309.9,474.9 310.4,475.1 310.9,475.1 311.4,475.7 311.9,475.5 312.4,475.1 312.9,475.6 313.4,475.7 313.9,475.6 314.4,476.1 314.9,476.6 315.4,476.4 315.9,476.8 316.4,476.3 316.9,476.2 317.4,476.2 317.9,475.6 318.4,475.4 318.9,475.7 319.4,475.4 319.9,475.6 320.4,475.4 320.9,475.6 321.4,476.0 321.9,476.2 322.4,476.9 322.9,476.5 323.4,476.6 323.9,476.1 324.4,476.2 324.9,475.8 325.4,475.6 325.9,475.2 326.4,475.2 326.9,475.8 327.4,475.6 327.9,475.8 328.4,476.0 328.9,476.3 329.4,476.5 329.9,476.4 330.4,476.8 330.9,476.4 331.4,476.0 331.9,476.1 332.4,475.5 332.9,475.5 333.4,475.8 333.9,475.4 334.4,475.8 334.9,476.3" fill="none" stroke="#ee5555" stroke-width="0.8"/>
<path d="M187.9,505.5 188.4,505.3 188.9,505.7 189.4,506.2 189.9,506.1 190.4,506.6 190.9,506.0 191.4,506.3 191.9,505.8 192.4,505.3 192.9,505.3 193.4,504.9 193.9,505.3 194.4,505.1 194.9,505.8 195.4,505.8 195.9,505.9 196.4,506.1 196.9,506.5 197.4,506.2 197.9,506.6 198.4,505.9 198.9,505.9 199.4,505.7 199.9,505.3 200.4,505.6 200.9,505.3 201.4,505.6 201.9,505.7 202.4,505.8 202.9,506.2 203.4,506.2 203.9,506.4 204.4,506.9 204.9,506.4 205.4,506.5 205.9,505.8 206.4,505.9 206.9,505.6 207.4,505.6 207.9,505.4 208.4,505.4 208.9,505.8 209.4,506.0 209.9,506.2 210.4,506.8 210.9,506.7 211.4,506.8 211.9,507.0 212.4,506.7 212.9,506.5 213.4,506.2 213.9,505.4 214.4,505.3 214.9,504.7 215.4,504.7 215.9,504.1 216.4,503.2 216.9,502.6 217.4,502.2 217.9,502.1 218.4,502.1 218.9,503.2 219.4,503.6 219.9,504.5 220.4,504.8 220.9,505.1 221.4,505.9 221.9,506.0 222.4,506.2 222.9,505.9 223.4,506.2 223.9,506.6 224.4,506.9 224.9,507.1 225.4,507.1 225.9,506.8 226.4,506.8 226.9,506.8 227.4,506.2 227.9,506.5 228.4,506.2 228.9,506.3 229.4,506.1 229.9,506.4 230.4,506.8 230.9,506.8 231.4,506.7 231.9,507.1 232.4,506.7 232.9,505.5 233.4,503.9 233.9,502.6 234.4,499.8 234.9,496.3 235.4,492.9 235.9,489.2 236.4,486.3 236.9,483.3 237.4,482.3 237.9,482.0 238.4,482.8 238.9,485.6 239.4,488.5 239.9,492.2 240.4,495.7 240.9,498.3 241.4,500.6 241.9,503.1 242.4,504.1 242.9,505.5 243.4,506.1 243.9,506.7 244.4,507.2 244.9,507.4 245.4,507.6 245.9,507.4 246.4,507.9 246.9,507.6 247.4,507.5 247.9,507.5 248.4,506.7 248.9,507.0 249.4,506.4 249.9,506.9 250.4,507.1 250.9,506.9 251.4,507.4 251.9,508.0 252.4,507.9 252.9,508.0 253.4,507.8 253.9,507.5 254.4,507.5 254.9,507.3 255.4,506.9 255.9,506.8 256.4,506.6 256.9,507.0 257.4,507.2 257.9,507.1 258.4,507.4 258.9,507.8 259.4,508.0 259.9,508.5 260.4,508.0 260.9,507.9 261.4,508.1 261.9,507.3 262.4,507.4 262.9,507.0 263.4,507.3 263.9,507.1 264.4,507.4 264.9,507.3 265.4,507.9 265.9,508.1 266.4,508.2 266.9,508.5 267.4,508.6 267.9,507.9 268.4,507.8 268.9,507.6 269.4,507.3 269.9,507.0 270.4,507.1 270.9,507.1 271.4,507.6 271.9,507.7 272.4,507.7 272.9,508.1 273.4,508.4 273.9,508.4 274.4,508.3 274.9,508.1 275.4,507.8 275.9,508.3 276.4,507.9 276.9,507.2 277.4,507.6 277.9,507.8 278.4,507.7 278.9,507.6 279.4,508.2 279.9,508.4 280.4,508.4 280.9,508.8 281.4,508.4 281.9,508.9 282.4,508.5 282.9,508.2 283.4,508.2 283.9,507.8 284.4,507.5 284.9,507.5 285.4,507.6 285.9,507.8 286.4,508.6 286.9,508.9 287.4,508.7 287.9,508.7 288.4,509.0 288.9,509.0 289.4,508.8 289.9,508.0 290.4,508.2 290.9,508.1 291.4,508.0 291.9,507.8 292.4,507.8 292.9,508.5 293.4,508.4 293.9,508.7 294.4,509.1 294.9,509.0 295.4,509.3 295.9,508.8 296.4,508.4 296.9,508.5 297.4,508.3 297.9,508.3 298.4,508.1 298.9,508.3 299.4,508.5 299.9,508.4 300.4,508.6 300.9,508.4 301.4,508.3 301.9,507.7 302.4,505.7 302.9,503.6 303.4,499.5 303.9,495.1 304.4,490.4 304.9,485.3 305.4,482.0 305.9,481.2 306.4,482.4 306.9,486.1 307.4,490.3 307.9,495.9 308.4,500.5 308.9,504.0 309.4,506.2 309.9,507.5 310.4,508.4 310.9,508.5 311.4,508.4 311.9,508.3 312.4,508.3 312.9,508.6 313.4,508.9 313.9,509.2 314.4,508.9 314.9,509.3 315.4,509.6 315.9,509.7 316.4,509.5 316.9,509.3 317.4,509.0 317.9,508.9 318.4,508.7 318.9,509.0 319.4,508.9 319.9,508.9 320.4,509.2 320.9,509.4 321.4,509.5 321.9,509.8 322.4,509.5 322.9,510.0 323.4,509.9 323.9,509.5 324.4,509.5 324.9,509.5 325.4,508.9 325.9,508.9 326.4,508.6 326.9,508.7 327.4,509.3 327.9,509.0 328.4,509.4 328.9,509.9 329.4,510.0 329.9,509.8 330.4,510.1 330.9,509.8 331.4,509.7 331.9,509.3 332.4,509.2 332.9,509.0 333.4,508.9 333.9,508.8 334.4,509.0 334.9,509.8" fill="none" stroke="#555555" stroke-width="0.8"/>
<text x="269.6" y="424.2" font-size="7.4" class="b">POSS0</text>
<text x="269.6" y="445.4" font-size="7.4" class="b">POSS2</text>
<text x="269.6" y="470.8" font-size="7.4" class="b">POSS5</text>
<text x="269.6" y="504.6" font-size="7.4" class="b">POSS10</text>
<line x1="187.5" y1="518.9" x2="335.5" y2="518.9" stroke="#333" stroke-width="0.9"/>
<line x1="334.20" y1="518.9" x2="334.20" y2="520.9" stroke="#333" stroke-width="0.8"/>
<text x="334.20" y="528.8" font-size="7.6" class="b" text-anchor="middle">80</text>
<line x1="320.89" y1="518.9" x2="320.89" y2="520.1" stroke="#333" stroke-width="0.8"/>
<line x1="307.58" y1="518.9" x2="307.58" y2="520.9" stroke="#333" stroke-width="0.8"/>
<text x="307.58" y="528.8" font-size="7.6" class="b" text-anchor="middle">100</text>
<line x1="294.27" y1="518.9" x2="294.27" y2="520.1" stroke="#333" stroke-width="0.8"/>
<line x1="280.96" y1="518.9" x2="280.96" y2="520.9" stroke="#333" stroke-width="0.8"/>
<text x="280.96" y="528.8" font-size="7.6" class="b" text-anchor="middle">120</text>
<line x1="267.65" y1="518.9" x2="267.65" y2="520.1" stroke="#333" stroke-width="0.8"/>
<line x1="254.34" y1="518.9" x2="254.34" y2="520.9" stroke="#333" stroke-width="0.8"/>
<text x="254.34" y="528.8" font-size="7.6" class="b" text-anchor="middle">140</text>
<line x1="241.03" y1="518.9" x2="241.03" y2="520.1" stroke="#333" stroke-width="0.8"/>
<line x1="227.72" y1="518.9" x2="227.72" y2="520.9" stroke="#333" stroke-width="0.8"/>
<text x="227.72" y="528.8" font-size="7.6" class="b" text-anchor="middle">160</text>
<line x1="214.41" y1="518.9" x2="214.41" y2="520.1" stroke="#333" stroke-width="0.8"/>
<line x1="201.10" y1="518.9" x2="201.10" y2="520.9" stroke="#333" stroke-width="0.8"/>
<text x="201.10" y="528.8" font-size="7.6" class="b" text-anchor="middle">180</text>
<line x1="187.79" y1="518.9" x2="187.79" y2="520.1" stroke="#333" stroke-width="0.8"/>
<text x="219.8" y="545.4" font-size="10.9" class="b">Binding Energy (eV)</text>
<text x="213.4" y="15.8" font-size="19" class="b">e</text>
<line x1="198.6" y1="377.4" x2="336.1" y2="377.4" stroke="#333" stroke-width="0.9"/>
<line x1="198.58" y1="377.4" x2="198.58" y2="375.4" stroke="#333" stroke-width="0.8"/>
<text x="198.58" y="385.6" font-size="7.6" class="b" text-anchor="middle">292</text>
<line x1="210.04" y1="377.4" x2="210.04" y2="376.2" stroke="#333" stroke-width="0.8"/>
<line x1="221.50" y1="377.4" x2="221.50" y2="375.4" stroke="#333" stroke-width="0.8"/>
<text x="221.50" y="385.6" font-size="7.6" class="b" text-anchor="middle">290</text>
<line x1="232.96" y1="377.4" x2="232.96" y2="376.2" stroke="#333" stroke-width="0.8"/>
<line x1="244.42" y1="377.4" x2="244.42" y2="375.4" stroke="#333" stroke-width="0.8"/>
<text x="244.42" y="385.6" font-size="7.6" class="b" text-anchor="middle">288</text>
<line x1="255.88" y1="377.4" x2="255.88" y2="376.2" stroke="#333" stroke-width="0.8"/>
<line x1="267.34" y1="377.4" x2="267.34" y2="375.4" stroke="#333" stroke-width="0.8"/>
<text x="267.34" y="385.6" font-size="7.6" class="b" text-anchor="middle">286</text>
<line x1="278.80" y1="377.4" x2="278.80" y2="376.2" stroke="#333" stroke-width="0.8"/>
<line x1="290.26" y1="377.4" x2="290.26" y2="375.4" stroke="#333" stroke-width="0.8"/>
<text x="290.26" y="385.6" font-size="7.6" class="b" text-anchor="middle">284</text>
<line x1="301.72" y1="377.4" x2="301.72" y2="376.2" stroke="#333" stroke-width="0.8"/>
<line x1="313.18" y1="377.4" x2="313.18" y2="375.4" stroke="#333" stroke-width="0.8"/>
<text x="313.18" y="385.6" font-size="7.6" class="b" text-anchor="middle">282</text>
<line x1="324.64" y1="377.4" x2="324.64" y2="376.2" stroke="#333" stroke-width="0.8"/>
<line x1="336.10" y1="377.4" x2="336.10" y2="375.4" stroke="#333" stroke-width="0.8"/>
<text x="336.10" y="385.6" font-size="7.6" class="b" text-anchor="middle">280</text>
<text x="225" y="400.6" font-size="10.9" class="b">Binding Energy (eV)</text>
<text x="220.4" y="31.0" font-size="7.4" class="b">POSS0</text>
<path d="M199.0,91.4 199.5,91.4 200.0,91.4 200.5,91.4 201.0,91.4 201.5,91.4 202.0,91.4 202.5,91.4 203.0,91.4 203.5,91.4 204.0,91.4 204.5,91.4 205.0,91.4 205.5,91.4 206.0,91.4 206.5,91.4 207.0,91.4 207.5,91.4 208.0,91.4 208.5,91.4 209.0,91.4 209.5,91.4 210.0,91.4 210.5,91.4 211.0,91.4 211.5,91.4 212.0,91.4 212.5,91.4 213.0,91.4 213.5,91.4 214.0,91.4 214.5,91.4 215.0,91.4 215.5,91.4 216.0,91.4 216.5,91.4 217.0,91.4 217.5,91.4 218.0,91.4 218.5,91.4 219.0,91.4 219.5,91.4 220.0,91.4 220.5,91.4 221.0,91.4 221.5,91.4 222.0,91.4 222.5,91.4 223.0,91.4 223.5,91.4 224.0,91.4 224.5,91.4 225.0,91.4 225.5,91.4 226.0,91.4 226.5,91.4 227.0,91.4 227.5,91.4 228.0,91.4 228.5,91.3 229.0,91.3 229.5,91.3 230.0,91.2 230.5,91.1 231.0,91.0 231.5,90.9 232.0,90.7 232.5,90.6 233.0,90.3 233.5,90.1 234.0,89.8 234.5,89.5 235.0,89.1 235.5,88.8 236.0,88.5 236.5,88.1 237.0,87.8 237.5,87.5 238.0,87.3 238.5,87.1 239.0,87.0 239.5,87.0 240.0,87.1 240.5,87.2 241.0,87.4 241.5,87.6 242.0,87.9 242.5,88.2 243.0,88.6 243.5,88.9 244.0,89.3 244.5,89.6 245.0,89.9 245.5,90.2 246.0,90.4 246.5,90.6 247.0,90.8 247.5,90.9 248.0,91.0 248.5,91.1 249.0,91.2 249.5,91.2 250.0,91.2 250.5,91.2 251.0,91.2 251.5,91.2 252.0,91.2 252.5,91.2 253.0,91.1 253.5,91.1 254.0,91.0 254.5,90.9 255.0,90.8 255.5,90.7 256.0,90.6 256.5,90.4 257.0,90.2 257.5,90.0 258.0,89.8 258.5,89.5 259.0,89.2 259.5,88.9 260.0,88.5 260.5,88.1 261.0,87.7 261.5,87.2 262.0,86.6 262.5,86.1 263.0,85.4 263.5,84.8 264.0,84.2 264.5,83.5 265.0,82.9 265.5,82.3 266.0,81.7 266.5,81.2 267.0,80.7 267.5,80.3 268.0,80.0 268.5,79.8 269.0,79.7 269.5,79.6 270.0,79.7 270.5,79.7 271.0,79.8 271.5,79.9 272.0,80.0 272.5,79.9 273.0,79.7 273.5,79.3 274.0,78.6 274.5,77.6 275.0,76.4 275.5,74.7 276.0,72.7 276.5,70.3 277.0,67.6 277.5,64.6 278.0,61.2 278.5,57.7 279.0,53.9 279.5,49.9 280.0,45.9 280.5,41.8 281.0,37.6 281.5,33.4 282.0,29.1 282.5,24.8 283.0,20.5 283.5,16.2 284.0,12.0 284.5,8.2 285.0,5.0 285.5,2.9 286.0,2.0 286.5,2.6 287.0,4.7 287.5,8.0 288.0,12.3 288.5,17.2 289.0,22.4 289.5,27.7 290.0,32.9 290.5,38.1 291.0,43.2 291.5,48.1 292.0,52.9 292.5,57.4 293.0,61.7 293.5,65.7 294.0,69.4 294.5,72.8 295.0,75.8 295.5,78.4 296.0,80.7 296.5,82.7 297.0,84.4 297.5,85.8 298.0,87.0 298.5,87.9 299.0,88.7 299.5,89.3 300.0,89.8 300.5,90.2 301.0,90.5 301.5,90.8 302.0,90.9 302.5,91.1 303.0,91.2 303.5,91.2 304.0,91.3 304.5,91.3 305.0,91.3 305.5,91.4 306.0,91.4 306.5,91.4 307.0,91.4 307.5,91.4 308.0,91.4 308.5,91.4 309.0,91.4 309.5,91.4 310.0,91.4 310.5,91.4 311.0,91.4 311.5,91.4 312.0,91.4 312.5,91.4 313.0,91.4 313.5,91.4 314.0,91.4 314.5,91.4 315.0,91.4 315.5,91.4 316.0,91.4 316.5,91.4 317.0,91.4 317.5,91.4 318.0,91.4 318.5,91.4 319.0,91.4 319.5,91.4 320.0,91.4 320.5,91.4 321.0,91.4 321.5,91.4 322.0,91.4 322.5,91.4 323.0,91.4 323.5,91.4 324.0,91.4 324.5,91.4 325.0,91.4 325.5,91.4 326.0,91.4 326.5,91.4 327.0,91.4 327.5,91.4 328.0,91.4 328.5,91.4 329.0,91.4 329.5,91.4 330.0,91.4 330.5,91.4 331.0,91.4 331.5,91.4 332.0,91.4 332.5,91.4 333.0,91.4 333.5,91.4 334.0,91.4 334.5,91.4 335.0,91.4 335.5,91.4" fill="none" stroke="#e990ec" stroke-width="0.8"/>
<path d="M199.0,91.5 199.5,91.6 200.0,91.6 200.5,91.7 201.0,91.6 201.5,91.7 202.0,91.1 202.5,91.4 203.0,91.7 203.5,91.5 204.0,91.7 204.5,91.1 205.0,91.4 205.5,91.2 206.0,91.4 206.5,91.5 207.0,91.1 207.5,91.2 208.0,91.2 208.5,91.7 209.0,91.6 209.5,91.2 210.0,91.6 210.5,91.1 211.0,91.5 211.5,91.1 212.0,91.1 212.5,91.7 213.0,91.2 213.5,91.2 214.0,91.7 214.5,91.7 215.0,91.3 215.5,91.7 216.0,91.4 216.5,91.5 217.0,91.2 217.5,91.7 218.0,91.5 218.5,91.7 219.0,91.7 219.5,91.3 220.0,91.3 220.5,91.2 221.0,91.2 221.5,91.1 222.0,91.3 222.5,91.5 223.0,91.1 223.5,91.5 224.0,91.3 224.5,91.3 225.0,91.6 225.5,91.4 226.0,91.3 226.5,91.4 227.0,91.5 227.5,91.1 228.0,91.7 228.5,91.0 229.0,91.5 229.5,91.5 230.0,90.9 230.5,91.3 231.0,90.9 231.5,90.9 232.0,90.4 232.5,90.2 233.0,90.1 233.5,90.4 234.0,89.6 234.5,89.7 235.0,89.5 235.5,89.1 236.0,88.3 236.5,88.0 237.0,87.8 237.5,87.7 238.0,87.0 238.5,87.3 239.0,87.2 239.5,87.3 240.0,86.7 240.5,87.5 241.0,87.1 241.5,87.5 242.0,88.0 242.5,88.5 243.0,88.5 243.5,89.2 244.0,89.3 244.5,89.5 245.0,89.8 245.5,90.0 246.0,90.1 246.5,90.4 247.0,90.9 247.5,91.3 248.0,90.8 248.5,90.8 249.0,91.5 249.5,91.2 250.0,91.2 250.5,91.1 251.0,91.3 251.5,91.5 252.0,91.2 252.5,91.1 253.0,90.8 253.5,91.4 254.0,90.7 254.5,90.9 255.0,91.0 255.5,90.4 256.0,90.7 256.5,90.7 257.0,90.3 257.5,90.2 258.0,89.5 258.5,89.5 259.0,89.0 259.5,89.2 260.0,88.4 260.5,88.1 261.0,88.0 261.5,87.4 262.0,87.0 262.5,86.0 263.0,85.4 263.5,85.0 264.0,84.2 264.5,83.4 265.0,82.8 265.5,82.0 266.0,81.6 266.5,81.5 267.0,81.0 267.5,80.4 268.0,80.0 268.5,79.7 269.0,79.4 269.5,79.5 270.0,79.9 270.5,80.0 271.0,79.7 271.5,80.1 272.0,80.2 272.5,80.0 273.0,79.8 273.5,79.5 274.0,78.5 274.5,77.8 275.0,76.2 275.5,74.7 276.0,72.9 276.5,70.5 277.0,67.5 277.5,64.9 278.0,61.3 278.5,57.7 279.0,53.5 279.5,50.0 280.0,45.7 280.5,41.9 281.0,37.6 281.5,33.6 282.0,29.2 282.5,25.0 283.0,20.4 283.5,16.3 284.0,12.2 284.5,8.4 285.0,4.9 285.5,3.1 286.0,2.3 286.5,2.8 287.0,5.0 287.5,8.4 288.0,12.3 288.5,17.2 289.0,22.2 289.5,27.9 290.0,33.3 290.5,38.1 291.0,43.3 291.5,48.3 292.0,53.1 292.5,57.2 293.0,61.9 293.5,65.8 294.0,69.6 294.5,72.7 295.0,75.9 295.5,78.6 296.0,80.8 296.5,82.8 297.0,84.0 297.5,85.6 298.0,86.9 298.5,88.0 299.0,88.5 299.5,89.5 300.0,89.9 300.5,89.9 301.0,90.5 301.5,90.6 302.0,90.6 302.5,90.8 303.0,91.0 303.5,91.0 304.0,91.1 304.5,91.0 305.0,91.3 305.5,91.3 306.0,91.5 306.5,91.4 307.0,91.2 307.5,91.7 308.0,91.0 308.5,91.3 309.0,91.2 309.5,91.3 310.0,91.1 310.5,91.6 311.0,91.3 311.5,91.1 312.0,91.5 312.5,91.1 313.0,91.4 313.5,91.3 314.0,91.5 314.5,91.7 315.0,91.6 315.5,91.3 316.0,91.6 316.5,91.5 317.0,91.3 317.5,91.1 318.0,91.5 318.5,91.4 319.0,91.7 319.5,91.7 320.0,91.5 320.5,91.3 321.0,91.7 321.5,91.1 322.0,91.1 322.5,91.4 323.0,91.5 323.5,91.1 324.0,91.5 324.5,91.7 325.0,91.3 325.5,91.4 326.0,91.2 326.5,91.3 327.0,91.7 327.5,91.3 328.0,91.7 328.5,91.7 329.0,91.5 329.5,91.2 330.0,91.7 330.5,91.4 331.0,91.3 331.5,91.3 332.0,91.7 332.5,91.4 333.0,91.3 333.5,91.4 334.0,91.1 334.5,91.5 335.0,91.4 335.5,91.3" fill="none" stroke="#f03050" stroke-width="0.55" stroke-dasharray="2 1.4" opacity="0.65"/>
<path d="M229.0,91.4 229.5,91.4 230.0,91.4 230.5,91.4 231.0,91.4 231.5,91.4 232.0,91.4 232.5,91.4 233.0,91.4 233.5,91.4 234.0,91.4 234.5,91.4 235.0,91.4 235.5,91.4 236.0,91.4 236.5,91.4 237.0,91.4 237.5,91.4 238.0,91.4 238.5,91.4 239.0,91.4 239.5,91.4 240.0,91.4 240.5,91.4 241.0,91.4 241.5,91.4 242.0,91.4 242.5,91.4 243.0,91.4 243.5,91.4 244.0,91.4 244.5,91.4 245.0,91.4 245.5,91.4 246.0,91.4 246.5,91.4 247.0,91.4 247.5,91.4 248.0,91.4 248.5,91.4 249.0,91.4 249.5,91.3 250.0,91.3 250.5,91.3 251.0,91.3 251.5,91.3 252.0,91.2 252.5,91.2 253.0,91.2 253.5,91.1 254.0,91.1 254.5,91.0 255.0,90.9 255.5,90.9 256.0,90.8 256.5,90.7 257.0,90.7 257.5,90.6 258.0,90.5 258.5,90.5 259.0,90.4 259.5,90.3 260.0,90.3 260.5,90.3 261.0,90.2 261.5,90.2 262.0,90.2 262.5,90.2 263.0,90.2 263.5,90.3 264.0,90.3 264.5,90.3 265.0,90.4 265.5,90.5 266.0,90.5 266.5,90.6 267.0,90.7 267.5,90.7 268.0,90.8 268.5,90.9 269.0,90.9 269.5,91.0 270.0,91.1 270.5,91.1 271.0,91.2 271.5,91.2 272.0,91.2 272.5,91.3 273.0,91.3 273.5,91.3 274.0,91.3 274.5,91.3 275.0,91.4 275.5,91.4 276.0,91.4 276.5,91.4 277.0,91.4 277.5,91.4 278.0,91.4 278.5,91.4 279.0,91.4 279.5,91.4 280.0,91.4 280.5,91.4 281.0,91.4 281.5,91.4 282.0,91.4" fill="none" stroke="#eea040" stroke-width="0.9"/>
<path d="M224.0,91.4 224.5,91.4 225.0,91.4 225.5,91.4 226.0,91.4 226.5,91.4 227.0,91.4 227.5,91.4 228.0,91.4 228.5,91.3 229.0,91.3 229.5,91.3 230.0,91.2 230.5,91.1 231.0,91.0 231.5,90.9 232.0,90.7 232.5,90.6 233.0,90.3 233.5,90.1 234.0,89.8 234.5,89.5 235.0,89.1 235.5,88.8 236.0,88.5 236.5,88.1 237.0,87.8 237.5,87.5 238.0,87.3 238.5,87.1 239.0,87.0 239.5,87.0 240.0,87.1 240.5,87.2 241.0,87.4 241.5,87.6 242.0,87.9 242.5,88.2 243.0,88.6 243.5,88.9 244.0,89.3 244.5,89.6 245.0,89.9 245.5,90.2 246.0,90.4 246.5,90.6 247.0,90.8 247.5,90.9 248.0,91.1 248.5,91.1 249.0,91.2 249.5,91.3 250.0,91.3 250.5,91.3 251.0,91.4 251.5,91.4 252.0,91.4 252.5,91.4 253.0,91.4 253.5,91.4 254.0,91.4 254.5,91.4 255.0,91.4 255.5,91.4 256.0,91.4" fill="none" stroke="#b040c8" stroke-width="0.9"/>
<path d="M249.0,91.4 249.5,91.4 250.0,91.4 250.5,91.4 251.0,91.4 251.5,91.4 252.0,91.4 252.5,91.4 253.0,91.4 253.5,91.3 254.0,91.3 254.5,91.3 255.0,91.3 255.5,91.2 256.0,91.1 256.5,91.1 257.0,91.0 257.5,90.8 258.0,90.7 258.5,90.5 259.0,90.2 259.5,90.0 260.0,89.6 260.5,89.3 261.0,88.8 261.5,88.4 262.0,87.8 262.5,87.2 263.0,86.6 263.5,86.0 264.0,85.3 264.5,84.6 265.0,83.9 265.5,83.2 266.0,82.6 266.5,82.0 267.0,81.5 267.5,81.1 268.0,80.7 268.5,80.5 269.0,80.4 269.5,80.4 270.0,80.6 270.5,80.8 271.0,81.1 271.5,81.6 272.0,82.1 272.5,82.7 273.0,83.4 273.5,84.0 274.0,84.7 274.5,85.4 275.0,86.1 275.5,86.8 276.0,87.4 276.5,87.9 277.0,88.5 277.5,88.9 278.0,89.4 278.5,89.7 279.0,90.0 279.5,90.3 280.0,90.5 280.5,90.7 281.0,90.9 281.5,91.0 282.0,91.1 282.5,91.2 283.0,91.2 283.5,91.3 284.0,91.3 284.5,91.3 285.0,91.4 285.5,91.4 286.0,91.4 286.5,91.4 287.0,91.4 287.5,91.4 288.0,91.4 288.5,91.4 289.0,91.4 289.5,91.4 290.0,91.4 290.5,91.4 291.0,91.4 291.5,91.4 292.0,91.4" fill="none" stroke="#40e4e4" stroke-width="0.9"/>
<path d="M262.0,91.4 262.5,91.4 263.0,91.4 263.5,91.4 264.0,91.4 264.5,91.4 265.0,91.4 265.5,91.4 266.0,91.4 266.5,91.4 267.0,91.3 267.5,91.3 268.0,91.3 268.5,91.2 269.0,91.2 269.5,91.1 270.0,90.9 270.5,90.8 271.0,90.5 271.5,90.2 272.0,89.8 272.5,89.3 273.0,88.7 273.5,87.9 274.0,87.0 274.5,85.8 275.0,84.4 275.5,82.7 276.0,80.7 276.5,78.4 277.0,75.8 277.5,72.8 278.0,69.4 278.5,65.8 279.0,61.8 279.5,57.5 280.0,52.9 280.5,48.3 281.0,43.5 281.5,38.7 282.0,34.0 282.5,29.6 283.0,25.4 283.5,21.7 284.0,18.5 284.5,15.9 285.0,14.0 285.5,12.8 286.0,12.4 286.5,12.8 287.0,14.0 287.5,15.9 288.0,18.5 288.5,21.7 289.0,25.4 289.5,29.6 290.0,34.0 290.5,38.7 291.0,43.5 291.5,48.3 292.0,52.9 292.5,57.5 293.0,61.8 293.5,65.8 294.0,69.4 294.5,72.8 295.0,75.8 295.5,78.4 296.0,80.7 296.5,82.7 297.0,84.4 297.5,85.8 298.0,87.0 298.5,87.9 299.0,88.7 299.5,89.3 300.0,89.8 300.5,90.2 301.0,90.5 301.5,90.8 302.0,90.9 302.5,91.1 303.0,91.2 303.5,91.2 304.0,91.3 304.5,91.3 305.0,91.3 305.5,91.4 306.0,91.4 306.5,91.4 307.0,91.4 307.5,91.4 308.0,91.4 308.5,91.4 309.0,91.4 309.5,91.4 310.0,91.4" fill="none" stroke="#4a4af2" stroke-width="1.15"/>
<text x="220.4" y="119.0" font-size="7.4" class="b">POSS2</text>
<path d="M199.0,186.2 199.5,186.2 200.0,186.2 200.5,186.2 201.0,186.2 201.5,186.2 202.0,186.2 202.5,186.2 203.0,186.2 203.5,186.2 204.0,186.2 204.5,186.2 205.0,186.2 205.5,186.2 206.0,186.2 206.5,186.2 207.0,186.2 207.5,186.2 208.0,186.2 208.5,186.2 209.0,186.2 209.5,186.2 210.0,186.2 210.5,186.2 211.0,186.2 211.5,186.2 212.0,186.2 212.5,186.2 213.0,186.2 213.5,186.2 214.0,186.2 214.5,186.2 215.0,186.2 215.5,186.2 216.0,186.2 216.5,186.2 217.0,186.2 217.5,186.2 218.0,186.2 218.5,186.2 219.0,186.2 219.5,186.2 220.0,186.2 220.5,186.2 221.0,186.2 221.5,186.2 222.0,186.2 222.5,186.2 223.0,186.2 223.5,186.2 224.0,186.2 224.5,186.2 225.0,186.2 225.5,186.2 226.0,186.2 226.5,186.1 227.0,186.1 227.5,186.1 228.0,186.0 228.5,186.0 229.0,185.9 229.5,185.8 230.0,185.6 230.5,185.4 231.0,185.2 231.5,185.0 232.0,184.7 232.5,184.4 233.0,184.0 233.5,183.6 234.0,183.2 234.5,182.8 235.0,182.4 235.5,182.0 236.0,181.6 236.5,181.3 237.0,181.0 237.5,180.8 238.0,180.6 238.5,180.6 239.0,180.6 239.5,180.8 240.0,181.0 240.5,181.3 241.0,181.6 241.5,182.0 242.0,182.4 242.5,182.8 243.0,183.2 243.5,183.6 244.0,184.0 244.5,184.4 245.0,184.7 245.5,185.0 246.0,185.2 246.5,185.4 247.0,185.6 247.5,185.7 248.0,185.9 248.5,185.9 249.0,186.0 249.5,186.0 250.0,186.1 250.5,186.1 251.0,186.1 251.5,186.1 252.0,186.0 252.5,186.0 253.0,185.9 253.5,185.8 254.0,185.7 254.5,185.6 255.0,185.5 255.5,185.3 256.0,185.1 256.5,184.9 257.0,184.7 257.5,184.4 258.0,184.1 258.5,183.8 259.0,183.5 259.5,183.2 260.0,182.8 260.5,182.5 261.0,182.1 261.5,181.6 262.0,181.2 262.5,180.7 263.0,180.1 263.5,179.5 264.0,178.9 264.5,178.1 265.0,177.3 265.5,176.5 266.0,175.6 266.5,174.7 267.0,173.8 267.5,172.9 268.0,172.0 268.5,171.1 269.0,170.3 269.5,169.6 270.0,168.9 270.5,168.3 271.0,167.8 271.5,167.3 272.0,166.7 272.5,166.2 273.0,165.5 273.5,164.8 274.0,163.9 274.5,162.8 275.0,161.6 275.5,160.1 276.0,158.3 276.5,156.3 277.0,154.2 277.5,151.7 278.0,149.1 278.5,146.3 279.0,143.3 279.5,140.2 280.0,136.9 280.5,133.6 281.0,130.1 281.5,126.6 282.0,123.0 282.5,119.5 283.0,116.1 283.5,112.8 284.0,109.8 284.5,107.1 285.0,104.6 285.5,102.6 286.0,101.1 286.5,100.0 287.0,99.4 287.5,99.4 288.0,99.9 288.5,100.9 289.0,102.5 289.5,104.5 290.0,107.0 290.5,109.9 291.0,113.1 291.5,116.7 292.0,120.5 292.5,124.5 293.0,128.6 293.5,132.7 294.0,136.9 294.5,141.0 295.0,145.1 295.5,149.0 296.0,152.7 296.5,156.3 297.0,159.7 297.5,162.8 298.0,165.7 298.5,168.3 299.0,170.7 299.5,172.9 300.0,174.8 300.5,176.5 301.0,178.0 301.5,179.4 302.0,180.5 302.5,181.5 303.0,182.3 303.5,183.0 304.0,183.6 304.5,184.1 305.0,184.5 305.5,184.9 306.0,185.1 306.5,185.4 307.0,185.5 307.5,185.7 308.0,185.8 308.5,185.9 309.0,186.0 309.5,186.0 310.0,186.1 310.5,186.1 311.0,186.1 311.5,186.1 312.0,186.2 312.5,186.2 313.0,186.2 313.5,186.2 314.0,186.2 314.5,186.2 315.0,186.2 315.5,186.2 316.0,186.2 316.5,186.2 317.0,186.2 317.5,186.2 318.0,186.2 318.5,186.2 319.0,186.2 319.5,186.2 320.0,186.2 320.5,186.2 321.0,186.2 321.5,186.2 322.0,186.2 322.5,186.2 323.0,186.2 323.5,186.2 324.0,186.2 324.5,186.2 325.0,186.2 325.5,186.2 326.0,186.2 326.5,186.2 327.0,186.2 327.5,186.2 328.0,186.2 328.5,186.2 329.0,186.2 329.5,186.2 330.0,186.2 330.5,186.2 331.0,186.2 331.5,186.2 332.0,186.2 332.5,186.2 333.0,186.2 333.5,186.2 334.0,186.2 334.5,186.2 335.0,186.2 335.5,186.2" fill="none" stroke="#e990ec" stroke-width="0.8"/>
<path d="M199.0,186.4 199.5,186.4 200.0,186.2 200.5,186.0 201.0,185.9 201.5,186.3 202.0,186.2 202.5,186.4 203.0,186.1 203.5,186.4 204.0,186.0 204.5,186.4 205.0,186.4 205.5,186.1 206.0,186.2 206.5,186.3 207.0,186.0 207.5,186.2 208.0,186.4 208.5,186.0 209.0,186.4 209.5,186.3 210.0,186.4 210.5,186.1 211.0,185.9 211.5,186.4 212.0,186.4 212.5,186.2 213.0,185.9 213.5,186.0 214.0,186.3 214.5,186.1 215.0,186.5 215.5,186.3 216.0,186.0 216.5,186.3 217.0,186.1 217.5,186.5 218.0,186.5 218.5,186.2 219.0,186.3 219.5,186.3 220.0,186.4 220.5,186.5 221.0,185.9 221.5,186.1 222.0,186.3 222.5,186.1 223.0,186.3 223.5,185.9 224.0,186.5 224.5,186.2 225.0,185.9 225.5,186.3 226.0,186.0 226.5,185.9 227.0,186.1 227.5,185.8 228.0,185.8 228.5,186.2 229.0,186.0 229.5,185.4 230.0,185.8 230.5,185.1 231.0,185.1 231.5,185.3 232.0,184.8 232.5,184.2 233.0,183.9 233.5,183.6 234.0,183.0 234.5,183.2 235.0,182.1 235.5,181.9 236.0,181.8 236.5,181.2 237.0,181.3 237.5,180.6 238.0,181.0 238.5,180.9 239.0,180.8 239.5,181.0 240.0,180.9 240.5,181.5 241.0,181.8 241.5,182.0 242.0,182.4 242.5,182.9 243.0,183.2 243.5,183.3 244.0,184.2 244.5,184.2 245.0,184.7 245.5,185.2 246.0,185.0 246.5,185.1 247.0,185.3 247.5,185.8 248.0,185.8 248.5,185.8 249.0,186.0 249.5,186.3 250.0,185.9 250.5,186.0 251.0,186.3 251.5,186.1 252.0,185.9 252.5,186.0 253.0,185.9 253.5,185.6 254.0,185.6 254.5,185.5 255.0,185.7 255.5,185.2 256.0,185.2 256.5,185.2 257.0,185.0 257.5,184.3 258.0,184.2 258.5,183.7 259.0,183.4 259.5,183.2 260.0,183.0 260.5,182.8 261.0,181.9 261.5,181.3 262.0,181.1 262.5,180.4 263.0,179.8 263.5,179.7 264.0,178.6 264.5,178.3 265.0,177.2 265.5,176.8 266.0,175.9 266.5,174.4 267.0,173.6 267.5,173.2 268.0,172.1 268.5,171.1 269.0,170.5 269.5,169.8 270.0,168.9 270.5,168.3 271.0,167.5 271.5,167.2 272.0,166.5 272.5,166.3 273.0,165.6 273.5,164.6 274.0,164.0 274.5,162.6 275.0,161.3 275.5,160.2 276.0,158.3 276.5,156.6 277.0,154.2 277.5,151.9 278.0,148.9 278.5,146.6 279.0,143.1 279.5,140.3 280.0,137.2 280.5,133.8 281.0,130.4 281.5,126.5 282.0,123.2 282.5,119.7 283.0,115.8 283.5,113.2 284.0,110.1 284.5,107.0 285.0,104.8 285.5,102.6 286.0,100.9 286.5,100.1 287.0,99.1 287.5,99.6 288.0,100.2 288.5,100.8 289.0,102.8 289.5,104.2 290.0,107.3 290.5,109.7 291.0,113.5 291.5,116.6 292.0,120.8 292.5,124.1 293.0,128.3 293.5,132.9 294.0,137.0 294.5,141.0 295.0,144.7 295.5,148.8 296.0,152.7 296.5,156.0 297.0,160.0 297.5,163.0 298.0,166.0 298.5,168.5 299.0,170.6 299.5,172.6 300.0,175.0 300.5,176.3 301.0,178.1 301.5,179.3 302.0,180.5 302.5,181.2 303.0,182.0 303.5,183.0 304.0,183.3 304.5,184.1 305.0,184.3 305.5,184.7 306.0,184.9 306.5,185.4 307.0,185.5 307.5,185.5 308.0,185.6 308.5,185.9 309.0,186.3 309.5,186.0 310.0,185.8 310.5,186.0 311.0,185.9 311.5,186.2 312.0,186.4 312.5,186.2 313.0,186.0 313.5,186.1 314.0,186.1 314.5,186.2 315.0,186.1 315.5,186.5 316.0,186.2 316.5,186.3 317.0,186.4 317.5,186.3 318.0,186.4 318.5,186.1 319.0,186.3 319.5,186.5 320.0,186.0 320.5,186.3 321.0,186.1 321.5,185.9 322.0,185.9 322.5,186.4 323.0,185.9 323.5,186.3 324.0,185.9 324.5,186.1 325.0,185.9 325.5,186.2 326.0,186.4 326.5,186.0 327.0,186.2 327.5,186.5 328.0,186.1 328.5,186.2 329.0,186.4 329.5,186.5 330.0,186.0 330.5,186.3 331.0,185.9 331.5,185.9 332.0,186.5 332.5,185.9 333.0,186.5 333.5,186.4 334.0,186.3 334.5,186.4 335.0,186.3 335.5,186.1" fill="none" stroke="#f03050" stroke-width="0.55" stroke-dasharray="2 1.4" opacity="0.65"/>
<path d="M229.0,186.2 229.5,186.2 230.0,186.2 230.5,186.2 231.0,186.2 231.5,186.2 232.0,186.2 232.5,186.2 233.0,186.2 233.5,186.2 234.0,186.2 234.5,186.2 235.0,186.2 235.5,186.2 236.0,186.2 236.5,186.2 237.0,186.2 237.5,186.2 238.0,186.2 238.5,186.2 239.0,186.2 239.5,186.2 240.0,186.2 240.5,186.2 241.0,186.2 241.5,186.2 242.0,186.2 242.5,186.2 243.0,186.2 243.5,186.2 244.0,186.2 244.5,186.2 245.0,186.2 245.5,186.2 246.0,186.2 246.5,186.2 247.0,186.2 247.5,186.2 248.0,186.2 248.5,186.2 249.0,186.2 249.5,186.2 250.0,186.2 250.5,186.1 251.0,186.1 251.5,186.1 252.0,186.0 252.5,186.0 253.0,185.9 253.5,185.8 254.0,185.8 254.5,185.6 255.0,185.5 255.5,185.4 256.0,185.2 256.5,185.0 257.0,184.8 257.5,184.6 258.0,184.4 258.5,184.2 259.0,184.1 259.5,183.9 260.0,183.8 260.5,183.7 261.0,183.6 261.5,183.6 262.0,183.6 262.5,183.7 263.0,183.8 263.5,183.9 264.0,184.1 264.5,184.2 265.0,184.4 265.5,184.6 266.0,184.8 266.5,185.0 267.0,185.2 267.5,185.4 268.0,185.5 268.5,185.6 269.0,185.8 269.5,185.8 270.0,185.9 270.5,186.0 271.0,186.0 271.5,186.1 272.0,186.1 272.5,186.1 273.0,186.2 273.5,186.2 274.0,186.2 274.5,186.2 275.0,186.2 275.5,186.2 276.0,186.2 276.5,186.2 277.0,186.2 277.5,186.2 278.0,186.2 278.5,186.2 279.0,186.2 279.5,186.2 280.0,186.2 280.5,186.2 281.0,186.2 281.5,186.2 282.0,186.2" fill="none" stroke="#eea040" stroke-width="0.9"/>
<path d="M224.0,186.2 224.5,186.2 225.0,186.2 225.5,186.2 226.0,186.2 226.5,186.1 227.0,186.1 227.5,186.1 228.0,186.0 228.5,186.0 229.0,185.9 229.5,185.8 230.0,185.6 230.5,185.4 231.0,185.2 231.5,185.0 232.0,184.7 232.5,184.4 233.0,184.0 233.5,183.6 234.0,183.2 234.5,182.8 235.0,182.4 235.5,182.0 236.0,181.6 236.5,181.3 237.0,181.0 237.5,180.8 238.0,180.6 238.5,180.6 239.0,180.6 239.5,180.8 240.0,181.0 240.5,181.3 241.0,181.6 241.5,182.0 242.0,182.4 242.5,182.8 243.0,183.2 243.5,183.6 244.0,184.0 244.5,184.4 245.0,184.7 245.5,185.0 246.0,185.2 246.5,185.4 247.0,185.6 247.5,185.8 248.0,185.9 248.5,186.0 249.0,186.0 249.5,186.1 250.0,186.1 250.5,186.1 251.0,186.2 251.5,186.2 252.0,186.2 252.5,186.2 253.0,186.2 253.5,186.2 254.0,186.2 254.5,186.2 255.0,186.2 255.5,186.2 256.0,186.2" fill="none" stroke="#b040c8" stroke-width="0.9"/>
<path d="M249.0,186.2 249.5,186.2 250.0,186.2 250.5,186.2 251.0,186.2 251.5,186.2 252.0,186.2 252.5,186.2 253.0,186.2 253.5,186.2 254.0,186.2 254.5,186.2 255.0,186.2 255.5,186.1 256.0,186.1 256.5,186.1 257.0,186.0 257.5,186.0 258.0,185.9 258.5,185.8 259.0,185.7 259.5,185.5 260.0,185.3 260.5,185.0 261.0,184.7 261.5,184.3 262.0,183.8 262.5,183.2 263.0,182.6 263.5,181.9 264.0,181.1 264.5,180.2 265.0,179.3 265.5,178.3 266.0,177.3 266.5,176.3 267.0,175.3 267.5,174.4 268.0,173.5 268.5,172.7 269.0,172.1 269.5,171.6 270.0,171.3 270.5,171.2 271.0,171.3 271.5,171.5 272.0,171.9 272.5,172.5 273.0,173.2 273.5,174.0 274.0,174.9 274.5,175.9 275.0,176.9 275.5,177.9 276.0,178.9 276.5,179.8 277.0,180.7 277.5,181.6 278.0,182.3 278.5,183.0 279.0,183.6 279.5,184.1 280.0,184.5 280.5,184.9 281.0,185.2 281.5,185.4 282.0,185.6 282.5,185.7 283.0,185.9 283.5,186.0 284.0,186.0 284.5,186.1 285.0,186.1 285.5,186.1 286.0,186.2 286.5,186.2 287.0,186.2 287.5,186.2 288.0,186.2 288.5,186.2 289.0,186.2 289.5,186.2 290.0,186.2 290.5,186.2 291.0,186.2 291.5,186.2 292.0,186.2" fill="none" stroke="#40e4e4" stroke-width="0.9"/>
<path d="M268.0,186.2 268.5,186.2 269.0,186.2 269.5,186.2 270.0,186.2 270.5,186.2 271.0,186.2 271.5,186.2 272.0,186.2 272.5,186.2 273.0,186.1 273.5,186.1 274.0,186.1 274.5,186.0 275.0,186.0 275.5,185.9 276.0,185.8 276.5,185.7 277.0,185.5 277.5,185.3 278.0,185.0 278.5,184.7 279.0,184.3 279.5,183.8 280.0,183.3 280.5,182.6 281.0,181.8 281.5,180.9 282.0,179.9 282.5,178.7 283.0,177.5 283.5,176.1 284.0,174.6 284.5,172.9 285.0,171.2 285.5,169.5 286.0,167.6 286.5,165.8 287.0,164.0 287.5,162.3 288.0,160.7 288.5,159.2 289.0,157.9 289.5,156.8 290.0,156.0 290.5,155.4 291.0,155.1 291.5,155.0 292.0,155.3 292.5,155.8 293.0,156.6 293.5,157.7 294.0,158.9 294.5,160.4 295.0,162.0 295.5,163.7 296.0,165.5 296.5,167.3 297.0,169.1 297.5,170.9 298.0,172.6 298.5,174.2 299.0,175.8 299.5,177.2 300.0,178.5 300.5,179.7 301.0,180.7 301.5,181.6 302.0,182.4 302.5,183.1 303.0,183.7 303.5,184.2 304.0,184.6 304.5,185.0 305.0,185.2 305.5,185.5 306.0,185.6 306.5,185.8 307.0,185.9 307.5,186.0 308.0,186.0 308.5,186.1 309.0,186.1 309.5,186.1 310.0,186.2 310.5,186.2 311.0,186.2 311.5,186.2 312.0,186.2 312.5,186.2 313.0,186.2 313.5,186.2 314.0,186.2 314.5,186.2 315.0,186.2 315.5,186.2 316.0,186.2" fill="none" stroke="#333333" stroke-width="0.85"/>
<path d="M262.0,186.2 262.5,186.2 263.0,186.2 263.5,186.2 264.0,186.2 264.5,186.2 265.0,186.2 265.5,186.2 266.0,186.2 266.5,186.2 267.0,186.1 267.5,186.1 268.0,186.1 268.5,186.0 269.0,186.0 269.5,185.9 270.0,185.8 270.5,185.6 271.0,185.5 271.5,185.2 272.0,184.9 272.5,184.5 273.0,184.0 273.5,183.4 274.0,182.7 274.5,181.8 275.0,180.7 275.5,179.5 276.0,178.0 276.5,176.4 277.0,174.5 277.5,172.4 278.0,170.1 278.5,167.6 279.0,164.9 279.5,162.1 280.0,159.1 280.5,156.1 281.0,153.1 281.5,150.2 282.0,147.4 282.5,144.8 283.0,142.4 283.5,140.4 284.0,138.8 284.5,137.6 285.0,136.8 285.5,136.6 286.0,136.8 286.5,137.6 287.0,138.8 287.5,140.4 288.0,142.4 288.5,144.8 289.0,147.4 289.5,150.2 290.0,153.1 290.5,156.1 291.0,159.1 291.5,162.1 292.0,164.9 292.5,167.6 293.0,170.1 293.5,172.4 294.0,174.5 294.5,176.4 295.0,178.0 295.5,179.5 296.0,180.7 296.5,181.8 297.0,182.7 297.5,183.4 298.0,184.0 298.5,184.5 299.0,184.9 299.5,185.2 300.0,185.5 300.5,185.6 301.0,185.8 301.5,185.9 302.0,186.0 302.5,186.0 303.0,186.1 303.5,186.1 304.0,186.1 304.5,186.2 305.0,186.2 305.5,186.2 306.0,186.2 306.5,186.2 307.0,186.2 307.5,186.2 308.0,186.2 308.5,186.2 309.0,186.2 309.5,186.2 310.0,186.2" fill="none" stroke="#4a4af2" stroke-width="1.15"/>
<text x="220.4" y="213.4" font-size="7.4" class="b">POSS5</text>
<path d="M199.0,272.3 199.5,272.3 200.0,272.2 200.5,272.2 201.0,272.2 201.5,272.2 202.0,272.2 202.5,272.2 203.0,272.2 203.5,272.2 204.0,272.2 204.5,272.2 205.0,272.2 205.5,272.2 206.0,272.2 206.5,272.2 207.0,272.2 207.5,272.2 208.0,272.2 208.5,272.2 209.0,272.2 209.5,272.2 210.0,272.2 210.5,272.2 211.0,272.2 211.5,272.2 212.0,272.2 212.5,272.2 213.0,272.2 213.5,272.2 214.0,272.2 214.5,272.2 215.0,272.2 215.5,272.2 216.0,272.2 216.5,272.2 217.0,272.2 217.5,272.2 218.0,272.2 218.5,272.2 219.0,272.2 219.5,272.2 220.0,272.1 220.5,272.1 221.0,272.1 221.5,272.1 222.0,272.1 222.5,272.1 223.0,272.1 223.5,272.1 224.0,272.1 224.5,272.1 225.0,272.1 225.5,272.1 226.0,272.1 226.5,272.1 227.0,272.1 227.5,272.1 228.0,272.0 228.5,272.0 229.0,272.0 229.5,271.9 230.0,271.8 230.5,271.7 231.0,271.6 231.5,271.5 232.0,271.3 232.5,271.0 233.0,270.7 233.5,270.4 234.0,270.0 234.5,269.6 235.0,269.1 235.5,268.6 236.0,268.1 236.5,267.5 237.0,267.0 237.5,266.5 238.0,266.1 238.5,265.8 239.0,265.5 239.5,265.3 240.0,265.3 240.5,265.4 241.0,265.6 241.5,265.8 242.0,266.2 242.5,266.6 243.0,267.1 243.5,267.6 244.0,268.1 244.5,268.6 245.0,269.1 245.5,269.5 246.0,269.9 246.5,270.3 247.0,270.6 247.5,270.8 248.0,271.0 248.5,271.1 249.0,271.2 249.5,271.3 250.0,271.3 250.5,271.3 251.0,271.3 251.5,271.2 252.0,271.1 252.5,271.0 253.0,270.9 253.5,270.8 254.0,270.6 254.5,270.4 255.0,270.1 255.5,269.8 256.0,269.5 256.5,269.1 257.0,268.7 257.5,268.2 258.0,267.6 258.5,267.0 259.0,266.3 259.5,265.6 260.0,264.7 260.5,263.8 261.0,262.8 261.5,261.7 262.0,260.6 262.5,259.4 263.0,258.1 263.5,256.9 264.0,255.6 264.5,254.2 265.0,252.9 265.5,251.7 266.0,250.5 266.5,249.4 267.0,248.3 267.5,247.4 268.0,246.7 268.5,246.0 269.0,245.5 269.5,245.1 270.0,244.8 270.5,244.7 271.0,244.6 271.5,244.5 272.0,244.4 272.5,244.3 273.0,244.2 273.5,243.9 274.0,243.6 274.5,243.2 275.0,242.6 275.5,242.0 276.0,241.3 276.5,240.5 277.0,239.7 277.5,238.8 278.0,237.8 278.5,236.7 279.0,235.6 279.5,234.2 280.0,232.7 280.5,230.9 281.0,228.9 281.5,226.7 282.0,224.2 282.5,221.4 283.0,218.4 283.5,215.3 284.0,212.1 284.5,208.8 285.0,205.7 285.5,202.6 286.0,199.8 286.5,197.4 287.0,195.3 287.5,193.8 288.0,192.8 288.5,192.3 289.0,192.6 289.5,193.4 290.0,194.8 290.5,196.7 291.0,199.2 291.5,202.0 292.0,205.2 292.5,208.7 293.0,212.3 293.5,216.1 294.0,219.9 294.5,223.7 295.0,227.5 295.5,231.2 296.0,234.8 296.5,238.2 297.0,241.4 297.5,244.5 298.0,247.3 298.5,250.0 299.0,252.4 299.5,254.6 300.0,256.5 300.5,258.3 301.0,259.9 301.5,261.3 302.0,262.6 302.5,263.6 303.0,264.6 303.5,265.4 304.0,266.2 304.5,266.8 305.0,267.3 305.5,267.8 306.0,268.2 306.5,268.5 307.0,268.8 307.5,269.1 308.0,269.3 308.5,269.5 309.0,269.7 309.5,269.8 310.0,269.9 310.5,270.1 311.0,270.2 311.5,270.3 312.0,270.4 312.5,270.5 313.0,270.5 313.5,270.6 314.0,270.7 314.5,270.7 315.0,270.8 315.5,270.9 316.0,270.9 316.5,271.0 317.0,271.0 317.5,271.0 318.0,271.1 318.5,271.1 319.0,271.2 319.5,271.2 320.0,271.2 320.5,271.3 321.0,271.3 321.5,271.3 322.0,271.4 322.5,271.4 323.0,271.4 323.5,271.5 324.0,271.5 324.5,271.5 325.0,271.5 325.5,271.6 326.0,271.6 326.5,271.6 327.0,271.6 327.5,271.6 328.0,271.7 328.5,271.7 329.0,271.7 329.5,271.7 330.0,271.7 330.5,271.7 331.0,271.8 331.5,271.8 332.0,271.8 332.5,271.8 333.0,271.8 333.5,271.8 334.0,271.8 334.5,271.8 335.0,271.9 335.5,271.9" fill="none" stroke="#e990ec" stroke-width="0.8"/>
<path d="M199.0,272.1 199.5,272.0 200.0,272.4 200.5,271.9 201.0,272.3 201.5,272.1 202.0,271.9 202.5,272.2 203.0,271.9 203.5,272.2 204.0,271.9 204.5,271.9 205.0,272.2 205.5,272.5 206.0,272.0 206.5,272.0 207.0,272.3 207.5,272.5 208.0,272.3 208.5,272.1 209.0,272.5 209.5,271.9 210.0,272.5 210.5,272.1 211.0,272.0 211.5,271.9 212.0,272.1 212.5,272.4 213.0,272.0 213.5,272.2 214.0,272.3 214.5,272.1 215.0,272.2 215.5,271.9 216.0,271.9 216.5,272.0 217.0,272.3 217.5,272.1 218.0,272.0 218.5,272.2 219.0,272.1 219.5,272.0 220.0,272.4 220.5,272.3 221.0,272.0 221.5,272.2 222.0,272.2 222.5,272.4 223.0,272.3 223.5,272.0 224.0,272.5 224.5,271.8 225.0,272.0 225.5,272.3 226.0,271.8 226.5,272.1 227.0,271.7 227.5,272.2 228.0,272.2 228.5,272.1 229.0,272.2 229.5,271.8 230.0,272.0 230.5,271.8 231.0,271.7 231.5,271.4 232.0,271.5 232.5,271.3 233.0,270.7 233.5,270.5 234.0,269.7 234.5,269.7 235.0,269.2 235.5,269.0 236.0,268.3 236.5,267.4 237.0,266.9 237.5,266.7 238.0,265.8 238.5,265.7 239.0,265.3 239.5,265.1 240.0,265.0 240.5,265.6 241.0,265.3 241.5,265.7 242.0,266.1 242.5,266.9 243.0,266.8 243.5,267.6 244.0,268.2 244.5,268.9 245.0,269.3 245.5,269.8 246.0,269.8 246.5,270.2 247.0,270.5 247.5,271.1 248.0,271.3 248.5,270.9 249.0,271.0 249.5,271.1 250.0,271.1 250.5,271.3 251.0,271.3 251.5,271.0 252.0,270.8 252.5,271.0 253.0,270.8 253.5,270.8 254.0,270.9 254.5,270.5 255.0,270.1 255.5,269.9 256.0,269.6 256.5,268.8 257.0,269.0 257.5,268.4 258.0,267.9 258.5,267.2 259.0,266.2 259.5,265.5 260.0,264.4 260.5,263.9 261.0,262.5 261.5,261.4 262.0,260.4 262.5,259.2 263.0,258.0 263.5,256.5 264.0,255.2 264.5,254.0 265.0,252.7 265.5,251.6 266.0,250.2 266.5,249.6 267.0,248.4 267.5,247.2 268.0,246.5 268.5,245.9 269.0,245.4 269.5,244.9 270.0,245.1 270.5,245.0 271.0,244.5 271.5,244.5 272.0,244.1 272.5,244.0 273.0,244.1 273.5,243.8 274.0,243.8 274.5,242.9 275.0,242.3 275.5,242.3 276.0,241.3 276.5,240.3 277.0,239.7 277.5,238.4 278.0,237.8 278.5,237.1 279.0,235.8 279.5,234.4 280.0,232.5 280.5,230.9 281.0,228.7 281.5,226.9 282.0,224.2 282.5,221.6 283.0,218.3 283.5,215.1 284.0,212.3 284.5,209.2 285.0,205.9 285.5,202.8 286.0,200.1 286.5,197.5 287.0,195.1 287.5,193.8 288.0,192.7 288.5,192.0 289.0,192.2 289.5,193.2 290.0,194.6 290.5,196.9 291.0,199.5 291.5,202.0 292.0,205.5 292.5,209.0 293.0,212.6 293.5,216.0 294.0,219.7 294.5,223.5 295.0,227.3 295.5,231.0 296.0,234.9 296.5,238.5 297.0,241.7 297.5,244.5 298.0,247.4 298.5,250.2 299.0,252.1 299.5,254.7 300.0,256.8 300.5,258.5 301.0,260.1 301.5,261.3 302.0,262.3 302.5,263.9 303.0,264.5 303.5,265.6 304.0,266.5 304.5,266.7 305.0,267.2 305.5,268.1 306.0,268.3 306.5,268.3 307.0,268.5 307.5,268.8 308.0,269.6 308.5,269.7 309.0,269.4 309.5,270.0 310.0,270.3 310.5,270.2 311.0,270.1 311.5,270.3 312.0,270.1 312.5,270.1 313.0,270.9 313.5,270.7 314.0,270.7 314.5,271.0 315.0,270.7 315.5,271.1 316.0,271.1 316.5,270.8 317.0,270.8 317.5,270.9 318.0,270.9 318.5,271.2 319.0,271.0 319.5,271.2 320.0,271.0 320.5,271.6 321.0,271.2 321.5,271.3 322.0,271.4 322.5,271.7 323.0,271.4 323.5,271.7 324.0,271.5 324.5,271.5 325.0,271.5 325.5,271.2 326.0,271.5 326.5,271.4 327.0,271.3 327.5,271.8 328.0,271.4 328.5,271.7 329.0,271.8 329.5,271.7 330.0,271.6 330.5,271.7 331.0,271.8 331.5,272.0 332.0,271.5 332.5,271.8 333.0,271.6 333.5,271.7 334.0,272.0 334.5,271.9 335.0,271.9 335.5,272.0" fill="none" stroke="#f03050" stroke-width="0.55" stroke-dasharray="2 1.4" opacity="0.65"/>
<path d="M229.0,272.4 229.5,272.4 230.0,272.4 230.5,272.4 231.0,272.4 231.5,272.4 232.0,272.4 232.5,272.4 233.0,272.4 233.5,272.4 234.0,272.4 234.5,272.4 235.0,272.4 235.5,272.4 236.0,272.4 236.5,272.4 237.0,272.4 237.5,272.4 238.0,272.4 238.5,272.4 239.0,272.4 239.5,272.4 240.0,272.4 240.5,272.4 241.0,272.4 241.5,272.4 242.0,272.4 242.5,272.4 243.0,272.4 243.5,272.4 244.0,272.4 244.5,272.4 245.0,272.4 245.5,272.4 246.0,272.4 246.5,272.4 247.0,272.4 247.5,272.4 248.0,272.4 248.5,272.3 249.0,272.3 249.5,272.3 250.0,272.3 250.5,272.3 251.0,272.2 251.5,272.2 252.0,272.1 252.5,272.1 253.0,272.0 253.5,271.9 254.0,271.8 254.5,271.8 255.0,271.6 255.5,271.5 256.0,271.4 256.5,271.3 257.0,271.2 257.5,271.1 258.0,270.9 258.5,270.8 259.0,270.7 259.5,270.6 260.0,270.6 260.5,270.5 261.0,270.4 261.5,270.4 262.0,270.4 262.5,270.4 263.0,270.4 263.5,270.5 264.0,270.6 264.5,270.6 265.0,270.7 265.5,270.8 266.0,270.9 266.5,271.1 267.0,271.2 267.5,271.3 268.0,271.4 268.5,271.5 269.0,271.6 269.5,271.8 270.0,271.8 270.5,271.9 271.0,272.0 271.5,272.1 272.0,272.1 272.5,272.2 273.0,272.2 273.5,272.3 274.0,272.3 274.5,272.3 275.0,272.3 275.5,272.3 276.0,272.4 276.5,272.4 277.0,272.4 277.5,272.4 278.0,272.4 278.5,272.4 279.0,272.4 279.5,272.4 280.0,272.4 280.5,272.4 281.0,272.4 281.5,272.4 282.0,272.4" fill="none" stroke="#eea040" stroke-width="0.9"/>
<path d="M224.0,272.4 224.5,272.4 225.0,272.4 225.5,272.4 226.0,272.4 226.5,272.4 227.0,272.4 227.5,272.4 228.0,272.4 228.5,272.3 229.0,272.3 229.5,272.2 230.0,272.2 230.5,272.1 231.0,272.0 231.5,271.8 232.0,271.6 232.5,271.4 233.0,271.1 233.5,270.8 234.0,270.4 234.5,270.0 235.0,269.5 235.5,269.0 236.0,268.5 236.5,268.0 237.0,267.5 237.5,267.0 238.0,266.6 238.5,266.2 239.0,266.0 239.5,265.8 240.0,265.8 240.5,265.9 241.0,266.1 241.5,266.4 242.0,266.7 242.5,267.2 243.0,267.7 243.5,268.2 244.0,268.7 244.5,269.2 245.0,269.7 245.5,270.2 246.0,270.6 246.5,270.9 247.0,271.2 247.5,271.5 248.0,271.7 248.5,271.9 249.0,272.0 249.5,272.1 250.0,272.2 250.5,272.3 251.0,272.3 251.5,272.3 252.0,272.4 252.5,272.4 253.0,272.4 253.5,272.4 254.0,272.4 254.5,272.4 255.0,272.4 255.5,272.4 256.0,272.4" fill="none" stroke="#b040c8" stroke-width="0.9"/>
<path d="M249.0,272.4 249.5,272.4 250.0,272.4 250.5,272.4 251.0,272.4 251.5,272.3 252.0,272.3 252.5,272.3 253.0,272.2 253.5,272.2 254.0,272.1 254.5,272.0 255.0,271.9 255.5,271.7 256.0,271.5 256.5,271.3 257.0,271.0 257.5,270.7 258.0,270.3 258.5,269.8 259.0,269.3 259.5,268.7 260.0,267.9 260.5,267.1 261.0,266.2 261.5,265.2 262.0,264.2 262.5,263.0 263.0,261.8 263.5,260.5 264.0,259.2 264.5,257.9 265.0,256.6 265.5,255.3 266.0,254.1 266.5,253.0 267.0,252.0 267.5,251.1 268.0,250.4 268.5,249.9 269.0,249.5 269.5,249.4 270.0,249.5 270.5,249.7 271.0,250.2 271.5,250.8 272.0,251.6 272.5,252.6 273.0,253.7 273.5,254.9 274.0,256.1 274.5,257.4 275.0,258.7 275.5,260.0 276.0,261.3 276.5,262.5 277.0,263.7 277.5,264.8 278.0,265.8 278.5,266.8 279.0,267.6 279.5,268.4 280.0,269.0 280.5,269.6 281.0,270.1 281.5,270.6 282.0,270.9 282.5,271.2 283.0,271.5 283.5,271.7 284.0,271.8 284.5,272.0 285.0,272.1 285.5,272.1 286.0,272.2 286.5,272.3 287.0,272.3 287.5,272.3 288.0,272.3 288.5,272.4 289.0,272.4 289.5,272.4 290.0,272.4 290.5,272.4 291.0,272.4 291.5,272.4 292.0,272.4" fill="none" stroke="#40e4e4" stroke-width="0.9"/>
<path d="M268.0,272.4 268.5,272.4 269.0,272.4 269.5,272.4 270.0,272.4 270.5,272.4 271.0,272.4 271.5,272.4 272.0,272.4 272.5,272.4 273.0,272.4 273.5,272.3 274.0,272.3 274.5,272.3 275.0,272.3 275.5,272.2 276.0,272.2 276.5,272.1 277.0,272.0 277.5,271.8 278.0,271.7 278.5,271.5 279.0,271.2 279.5,270.9 280.0,270.6 280.5,270.1 281.0,269.6 281.5,269.0 282.0,268.3 282.5,267.4 283.0,266.5 283.5,265.4 284.0,264.2 284.5,262.9 285.0,261.5 285.5,259.9 286.0,258.3 286.5,256.5 287.0,254.7 287.5,252.8 288.0,251.0 288.5,249.1 289.0,247.3 289.5,245.5 290.0,243.9 290.5,242.4 291.0,241.2 291.5,240.1 292.0,239.2 292.5,238.7 293.0,238.4 293.5,238.3 294.0,238.6 294.5,239.1 295.0,239.9 295.5,240.9 296.0,242.2 296.5,243.6 297.0,245.2 297.5,246.9 298.0,248.7 298.5,250.6 299.0,252.5 299.5,254.3 300.0,256.2 300.5,257.9 301.0,259.6 301.5,261.2 302.0,262.6 302.5,264.0 303.0,265.2 303.5,266.3 304.0,267.3 304.5,268.1 305.0,268.9 305.5,269.5 306.0,270.0 306.5,270.5 307.0,270.9 307.5,271.2 308.0,271.4 308.5,271.7 309.0,271.8 309.5,272.0 310.0,272.1 310.5,272.1 311.0,272.2 311.5,272.3 312.0,272.3 312.5,272.3 313.0,272.3 313.5,272.4 314.0,272.4 314.5,272.4 315.0,272.4 315.5,272.4 316.0,272.4" fill="none" stroke="#333333" stroke-width="0.85"/>
<path d="M262.0,272.4 262.5,272.4 263.0,272.4 263.5,272.4 264.0,272.4 264.5,272.4 265.0,272.4 265.5,272.4 266.0,272.4 266.5,272.4 267.0,272.4 267.5,272.4 268.0,272.3 268.5,272.3 269.0,272.3 269.5,272.2 270.0,272.2 270.5,272.1 271.0,272.0 271.5,271.8 272.0,271.6 272.5,271.3 273.0,271.0 273.5,270.6 274.0,270.0 274.5,269.4 275.0,268.6 275.5,267.7 276.0,266.6 276.5,265.3 277.0,263.8 277.5,262.1 278.0,260.2 278.5,258.0 279.0,255.7 279.5,253.2 280.0,250.5 280.5,247.7 281.0,244.7 281.5,241.8 282.0,238.9 282.5,236.1 283.0,233.4 283.5,230.9 284.0,228.8 284.5,226.9 285.0,225.5 285.5,224.5 286.0,224.0 286.5,223.9 287.0,224.4 287.5,225.3 288.0,226.6 288.5,228.4 289.0,230.5 289.5,232.9 290.0,235.5 290.5,238.3 291.0,241.2 291.5,244.2 292.0,247.1 292.5,249.9 293.0,252.6 293.5,255.2 294.0,257.6 294.5,259.8 295.0,261.7 295.5,263.5 296.0,265.0 296.5,266.3 297.0,267.5 297.5,268.5 298.0,269.3 298.5,269.9 299.0,270.5 299.5,270.9 300.0,271.3 300.5,271.5 301.0,271.8 301.5,271.9 302.0,272.0 302.5,272.1 303.0,272.2 303.5,272.3 304.0,272.3 304.5,272.3 305.0,272.4 305.5,272.4 306.0,272.4 306.5,272.4 307.0,272.4 307.5,272.4 308.0,272.4 308.5,272.4 309.0,272.4 309.5,272.4 310.0,272.4" fill="none" stroke="#4a4af2" stroke-width="1.15"/>
<text x="220.4" y="300.3" font-size="7.4" class="b">POSS10</text>
<path d="M199.0,359.9 199.5,359.9 200.0,359.9 200.5,359.8 201.0,359.8 201.5,359.8 202.0,359.8 202.5,359.8 203.0,359.8 203.5,359.8 204.0,359.8 204.5,359.8 205.0,359.8 205.5,359.8 206.0,359.8 206.5,359.8 207.0,359.8 207.5,359.8 208.0,359.8 208.5,359.8 209.0,359.8 209.5,359.8 210.0,359.8 210.5,359.8 211.0,359.8 211.5,359.8 212.0,359.8 212.5,359.8 213.0,359.8 213.5,359.8 214.0,359.8 214.5,359.8 215.0,359.8 215.5,359.8 216.0,359.8 216.5,359.8 217.0,359.8 217.5,359.8 218.0,359.8 218.5,359.8 219.0,359.8 219.5,359.8 220.0,359.8 220.5,359.7 221.0,359.7 221.5,359.7 222.0,359.7 222.5,359.7 223.0,359.7 223.5,359.7 224.0,359.7 224.5,359.7 225.0,359.7 225.5,359.7 226.0,359.7 226.5,359.7 227.0,359.6 227.5,359.6 228.0,359.6 228.5,359.5 229.0,359.5 229.5,359.4 230.0,359.2 230.5,359.1 231.0,358.9 231.5,358.7 232.0,358.4 232.5,358.1 233.0,357.8 233.5,357.3 234.0,356.9 234.5,356.4 235.0,356.0 235.5,355.5 236.0,355.0 236.5,354.6 237.0,354.2 237.5,353.9 238.0,353.7 238.5,353.6 239.0,353.5 239.5,353.6 240.0,353.8 240.5,354.1 241.0,354.4 241.5,354.8 242.0,355.3 242.5,355.7 243.0,356.2 243.5,356.6 244.0,357.1 244.5,357.5 245.0,357.8 245.5,358.1 246.0,358.4 246.5,358.6 247.0,358.7 247.5,358.9 248.0,358.9 248.5,359.0 249.0,359.0 249.5,359.0 250.0,359.0 250.5,359.0 251.0,359.0 251.5,358.9 252.0,358.8 252.5,358.7 253.0,358.6 253.5,358.5 254.0,358.3 254.5,358.1 255.0,357.9 255.5,357.6 256.0,357.3 256.5,357.0 257.0,356.6 257.5,356.1 258.0,355.6 258.5,355.0 259.0,354.3 259.5,353.6 260.0,352.7 260.5,351.7 261.0,350.6 261.5,349.4 262.0,348.1 262.5,346.7 263.0,345.3 263.5,343.7 264.0,342.0 264.5,340.4 265.0,338.7 265.5,337.0 266.0,335.4 266.5,333.9 267.0,332.5 267.5,331.2 268.0,330.1 268.5,329.2 269.0,328.6 269.5,328.1 270.0,327.9 270.5,327.9 271.0,328.1 271.5,328.4 272.0,328.8 272.5,329.3 273.0,329.8 273.5,330.2 274.0,330.6 274.5,330.8 275.0,330.8 275.5,330.6 276.0,330.3 276.5,329.7 277.0,328.9 277.5,328.0 278.0,326.9 278.5,325.6 279.0,324.2 279.5,322.7 280.0,321.0 280.5,319.1 281.0,317.0 281.5,314.7 282.0,312.2 282.5,309.5 283.0,306.5 283.5,303.5 284.0,300.3 284.5,297.2 285.0,294.1 285.5,291.1 286.0,288.3 286.5,285.9 287.0,283.9 287.5,282.4 288.0,281.4 288.5,281.0 289.0,281.2 289.5,282.0 290.0,283.4 290.5,285.3 291.0,287.7 291.5,290.5 292.0,293.7 292.5,297.1 293.0,300.7 293.5,304.4 294.0,308.2 294.5,311.9 295.0,315.7 295.5,319.3 296.0,322.9 296.5,326.2 297.0,329.4 297.5,332.4 298.0,335.2 298.5,337.8 299.0,340.2 299.5,342.4 300.0,344.3 300.5,346.1 301.0,347.7 301.5,349.1 302.0,350.3 302.5,351.4 303.0,352.3 303.5,353.1 304.0,353.8 304.5,354.4 305.0,355.0 305.5,355.4 306.0,355.8 306.5,356.2 307.0,356.5 307.5,356.7 308.0,356.9 308.5,357.1 309.0,357.3 309.5,357.4 310.0,357.6 310.5,357.7 311.0,357.8 311.5,357.9 312.0,358.0 312.5,358.1 313.0,358.2 313.5,358.2 314.0,358.3 314.5,358.4 315.0,358.4 315.5,358.5 316.0,358.5 316.5,358.6 317.0,358.6 317.5,358.7 318.0,358.7 318.5,358.7 319.0,358.8 319.5,358.8 320.0,358.9 320.5,358.9 321.0,358.9 321.5,359.0 322.0,359.0 322.5,359.0 323.0,359.0 323.5,359.1 324.0,359.1 324.5,359.1 325.0,359.1 325.5,359.2 326.0,359.2 326.5,359.2 327.0,359.2 327.5,359.2 328.0,359.3 328.5,359.3 329.0,359.3 329.5,359.3 330.0,359.3 330.5,359.3 331.0,359.4 331.5,359.4 332.0,359.4 332.5,359.4 333.0,359.4 333.5,359.4 334.0,359.4 334.5,359.5 335.0,359.5 335.5,359.5" fill="none" stroke="#e990ec" stroke-width="0.8"/>
<path d="M199.0,359.7 199.5,360.2 200.0,359.6 200.5,360.0 201.0,359.6 201.5,359.7 202.0,360.2 202.5,359.6 203.0,359.9 203.5,359.8 204.0,359.8 204.5,359.8 205.0,359.6 205.5,360.1 206.0,359.5 206.5,359.6 207.0,359.5 207.5,359.7 208.0,359.8 208.5,360.1 209.0,359.7 209.5,359.5 210.0,359.6 210.5,360.2 211.0,359.5 211.5,359.9 212.0,359.7 212.5,359.9 213.0,359.7 213.5,359.9 214.0,359.8 214.5,359.9 215.0,360.1 215.5,359.8 216.0,359.5 216.5,359.5 217.0,360.1 217.5,359.8 218.0,359.6 218.5,360.1 219.0,359.8 219.5,359.9 220.0,360.0 220.5,359.6 221.0,359.6 221.5,360.0 222.0,359.5 222.5,359.9 223.0,359.4 223.5,359.9 224.0,359.9 224.5,360.0 225.0,359.9 225.5,359.7 226.0,359.5 226.5,359.4 227.0,359.7 227.5,359.6 228.0,359.3 228.5,359.8 229.0,359.5 229.5,359.5 230.0,359.1 230.5,358.9 231.0,358.6 231.5,358.6 232.0,358.3 232.5,358.1 233.0,357.7 233.5,357.6 234.0,357.2 234.5,356.2 235.0,355.9 235.5,355.2 236.0,355.1 236.5,354.9 237.0,354.0 237.5,354.1 238.0,353.5 238.5,353.2 239.0,353.7 239.5,353.5 240.0,353.6 240.5,354.0 241.0,354.2 241.5,354.8 242.0,355.2 242.5,355.7 243.0,356.2 243.5,356.5 244.0,356.8 244.5,357.2 245.0,357.5 245.5,358.1 246.0,358.3 246.5,358.8 247.0,358.7 247.5,359.0 248.0,359.3 248.5,358.7 249.0,358.7 249.5,358.8 250.0,359.0 250.5,359.1 251.0,359.1 251.5,358.8 252.0,359.1 252.5,358.4 253.0,358.8 253.5,358.3 254.0,358.6 254.5,357.8 255.0,358.2 255.5,357.8 256.0,357.7 256.5,357.1 257.0,356.4 257.5,356.5 258.0,355.6 258.5,354.7 259.0,354.4 259.5,353.6 260.0,352.7 260.5,351.5 261.0,350.4 261.5,349.5 262.0,348.1 262.5,346.5 263.0,345.2 263.5,343.8 264.0,342.2 264.5,340.4 265.0,338.6 265.5,336.9 266.0,335.2 266.5,333.7 267.0,332.4 267.5,330.9 268.0,330.3 268.5,329.4 269.0,328.6 269.5,327.8 270.0,327.8 270.5,327.8 271.0,327.8 271.5,328.7 272.0,329.0 272.5,329.3 273.0,329.9 273.5,330.0 274.0,330.4 274.5,330.8 275.0,331.0 275.5,330.7 276.0,329.9 276.5,329.8 277.0,329.2 277.5,328.2 278.0,327.2 278.5,326.0 279.0,324.0 279.5,322.6 280.0,321.0 280.5,319.4 281.0,316.9 281.5,315.0 282.0,312.4 282.5,309.5 283.0,306.6 283.5,303.8 284.0,300.5 284.5,297.0 285.0,294.3 285.5,290.9 286.0,288.2 286.5,286.2 287.0,284.1 287.5,282.2 288.0,281.2 288.5,281.0 289.0,281.4 289.5,282.1 290.0,283.7 290.5,285.5 291.0,287.9 291.5,290.6 292.0,293.6 292.5,297.0 293.0,300.7 293.5,304.4 294.0,308.4 294.5,311.8 295.0,315.4 295.5,319.5 296.0,322.7 296.5,326.2 297.0,329.2 297.5,332.7 298.0,335.1 298.5,337.7 299.0,340.4 299.5,342.4 300.0,344.2 300.5,346.4 301.0,347.6 301.5,349.0 302.0,350.6 302.5,351.6 303.0,352.5 303.5,352.9 304.0,354.0 304.5,354.5 305.0,355.2 305.5,355.3 306.0,356.0 306.5,356.4 307.0,356.4 307.5,356.8 308.0,357.1 308.5,357.5 309.0,357.6 309.5,357.6 310.0,357.3 310.5,357.8 311.0,357.9 311.5,357.6 312.0,358.0 312.5,358.3 313.0,358.4 313.5,358.5 314.0,358.0 314.5,358.4 315.0,358.7 315.5,358.6 316.0,358.4 316.5,358.2 317.0,358.9 317.5,358.9 318.0,358.8 318.5,358.7 319.0,359.0 319.5,359.0 320.0,359.0 320.5,359.0 321.0,358.8 321.5,358.8 322.0,358.9 322.5,358.9 323.0,359.1 323.5,358.8 324.0,359.2 324.5,359.0 325.0,358.9 325.5,359.0 326.0,359.1 326.5,359.2 327.0,359.4 327.5,359.0 328.0,359.1 328.5,359.1 329.0,359.1 329.5,359.5 330.0,359.1 330.5,359.0 331.0,359.4 331.5,359.5 332.0,359.6 332.5,359.4 333.0,359.3 333.5,359.7 334.0,359.6 334.5,359.4 335.0,359.5 335.5,359.8" fill="none" stroke="#f03050" stroke-width="0.55" stroke-dasharray="2 1.4" opacity="0.65"/>
<path d="M229.0,360.0 229.5,360.0 230.0,360.0 230.5,360.0 231.0,360.0 231.5,360.0 232.0,360.0 232.5,360.0 233.0,360.0 233.5,360.0 234.0,360.0 234.5,360.0 235.0,360.0 235.5,360.0 236.0,360.0 236.5,360.0 237.0,360.0 237.5,360.0 238.0,360.0 238.5,360.0 239.0,360.0 239.5,360.0 240.0,360.0 240.5,360.0 241.0,360.0 241.5,360.0 242.0,360.0 242.5,360.0 243.0,360.0 243.5,360.0 244.0,360.0 244.5,360.0 245.0,360.0 245.5,360.0 246.0,360.0 246.5,360.0 247.0,360.0 247.5,360.0 248.0,360.0 248.5,359.9 249.0,359.9 249.5,359.9 250.0,359.9 250.5,359.9 251.0,359.8 251.5,359.8 252.0,359.7 252.5,359.7 253.0,359.6 253.5,359.5 254.0,359.4 254.5,359.4 255.0,359.2 255.5,359.1 256.0,359.0 256.5,358.9 257.0,358.8 257.5,358.7 258.0,358.5 258.5,358.4 259.0,358.3 259.5,358.2 260.0,358.2 260.5,358.1 261.0,358.0 261.5,358.0 262.0,358.0 262.5,358.0 263.0,358.0 263.5,358.1 264.0,358.2 264.5,358.2 265.0,358.3 265.5,358.4 266.0,358.5 266.5,358.7 267.0,358.8 267.5,358.9 268.0,359.0 268.5,359.1 269.0,359.2 269.5,359.4 270.0,359.4 270.5,359.5 271.0,359.6 271.5,359.7 272.0,359.7 272.5,359.8 273.0,359.8 273.5,359.9 274.0,359.9 274.5,359.9 275.0,359.9 275.5,359.9 276.0,360.0 276.5,360.0 277.0,360.0 277.5,360.0 278.0,360.0 278.5,360.0 279.0,360.0 279.5,360.0 280.0,360.0 280.5,360.0 281.0,360.0 281.5,360.0 282.0,360.0" fill="none" stroke="#eea040" stroke-width="0.9"/>
<path d="M224.0,360.0 224.5,360.0 225.0,360.0 225.5,360.0 226.0,360.0 226.5,360.0 227.0,360.0 227.5,359.9 228.0,359.9 228.5,359.8 229.0,359.8 229.5,359.7 230.0,359.6 230.5,359.4 231.0,359.3 231.5,359.1 232.0,358.8 232.5,358.5 233.0,358.1 233.5,357.7 234.0,357.3 234.5,356.8 235.0,356.4 235.5,355.9 236.0,355.4 236.5,355.0 237.0,354.6 237.5,354.3 238.0,354.1 238.5,354.0 239.0,354.0 239.5,354.1 240.0,354.3 240.5,354.6 241.0,354.9 241.5,355.3 242.0,355.8 242.5,356.3 243.0,356.7 243.5,357.2 244.0,357.6 244.5,358.1 245.0,358.4 245.5,358.7 246.0,359.0 246.5,359.2 247.0,359.4 247.5,359.6 248.0,359.7 248.5,359.8 249.0,359.8 249.5,359.9 250.0,359.9 250.5,359.9 251.0,360.0 251.5,360.0 252.0,360.0 252.5,360.0 253.0,360.0 253.5,360.0 254.0,360.0 254.5,360.0 255.0,360.0 255.5,360.0 256.0,360.0" fill="none" stroke="#b040c8" stroke-width="0.9"/>
<path d="M249.0,360.0 249.5,360.0 250.0,360.0 250.5,360.0 251.0,360.0 251.5,360.0 252.0,360.0 252.5,359.9 253.0,359.9 253.5,359.9 254.0,359.8 254.5,359.7 255.0,359.6 255.5,359.5 256.0,359.4 256.5,359.2 257.0,358.9 257.5,358.6 258.0,358.3 258.5,357.8 259.0,357.3 259.5,356.6 260.0,355.9 260.5,355.0 261.0,354.0 261.5,352.9 262.0,351.7 262.5,350.4 263.0,348.9 263.5,347.3 264.0,345.7 264.5,344.0 265.0,342.3 265.5,340.7 266.0,339.0 266.5,337.5 267.0,336.1 267.5,334.8 268.0,333.8 268.5,332.9 269.0,332.4 269.5,332.1 270.0,332.0 270.5,332.3 271.0,332.8 271.5,333.6 272.0,334.6 272.5,335.8 273.0,337.2 273.5,338.7 274.0,340.3 274.5,342.0 275.0,343.7 275.5,345.4 276.0,347.0 276.5,348.6 277.0,350.1 277.5,351.4 278.0,352.7 278.5,353.8 279.0,354.8 279.5,355.7 280.0,356.5 280.5,357.2 281.0,357.7 281.5,358.2 282.0,358.6 282.5,358.9 283.0,359.1 283.5,359.3 284.0,359.5 284.5,359.6 285.0,359.7 285.5,359.8 286.0,359.9 286.5,359.9 287.0,359.9 287.5,359.9 288.0,360.0 288.5,360.0 289.0,360.0 289.5,360.0 290.0,360.0 290.5,360.0 291.0,360.0 291.5,360.0 292.0,360.0" fill="none" stroke="#40e4e4" stroke-width="0.9"/>
<path d="M268.0,360.0 268.5,360.0 269.0,360.0 269.5,360.0 270.0,360.0 270.5,360.0 271.0,360.0 271.5,360.0 272.0,360.0 272.5,360.0 273.0,360.0 273.5,359.9 274.0,359.9 274.5,359.9 275.0,359.8 275.5,359.8 276.0,359.7 276.5,359.6 277.0,359.5 277.5,359.3 278.0,359.1 278.5,358.9 279.0,358.6 279.5,358.2 280.0,357.7 280.5,357.1 281.0,356.4 281.5,355.6 282.0,354.6 282.5,353.5 283.0,352.3 283.5,350.8 284.0,349.2 284.5,347.5 285.0,345.5 285.5,343.5 286.0,341.3 286.5,338.9 287.0,336.5 287.5,334.1 288.0,331.7 288.5,329.3 289.0,327.0 289.5,324.8 290.0,322.9 290.5,321.1 291.0,319.7 291.5,318.6 292.0,317.8 292.5,317.4 293.0,317.3 293.5,317.7 294.0,318.4 294.5,319.4 295.0,320.8 295.5,322.5 296.0,324.4 296.5,326.5 297.0,328.8 297.5,331.2 298.0,333.6 298.5,336.1 299.0,338.5 299.5,340.8 300.0,343.0 300.5,345.1 301.0,347.1 301.5,348.9 302.0,350.5 302.5,352.0 303.0,353.3 303.5,354.4 304.0,355.4 304.5,356.3 305.0,357.0 305.5,357.6 306.0,358.1 306.5,358.5 307.0,358.8 307.5,359.1 308.0,359.3 308.5,359.5 309.0,359.6 309.5,359.7 310.0,359.8 310.5,359.8 311.0,359.9 311.5,359.9 312.0,359.9 312.5,360.0 313.0,360.0 313.5,360.0 314.0,360.0 314.5,360.0 315.0,360.0 315.5,360.0 316.0,360.0" fill="none" stroke="#333333" stroke-width="0.85"/>
<path d="M262.0,360.0 262.5,360.0 263.0,360.0 263.5,360.0 264.0,360.0 264.5,360.0 265.0,360.0 265.5,360.0 266.0,360.0 266.5,360.0 267.0,360.0 267.5,359.9 268.0,359.9 268.5,359.9 269.0,359.9 269.5,359.8 270.0,359.7 270.5,359.6 271.0,359.5 271.5,359.3 272.0,359.0 272.5,358.7 273.0,358.3 273.5,357.8 274.0,357.2 274.5,356.5 275.0,355.6 275.5,354.5 276.0,353.3 276.5,351.8 277.0,350.1 277.5,348.2 278.0,346.1 278.5,343.7 279.0,341.1 279.5,338.4 280.0,335.4 280.5,332.4 281.0,329.3 281.5,326.1 282.0,323.1 282.5,320.1 283.0,317.3 283.5,314.8 284.0,312.7 284.5,310.9 285.0,309.5 285.5,308.7 286.0,308.3 286.5,308.5 287.0,309.1 287.5,310.3 288.0,311.9 288.5,313.9 289.0,316.3 289.5,319.0 290.0,321.9 290.5,324.9 291.0,328.0 291.5,331.1 292.0,334.2 292.5,337.2 293.0,340.0 293.5,342.7 294.0,345.2 294.5,347.4 295.0,349.4 295.5,351.2 296.0,352.7 296.5,354.1 297.0,355.2 297.5,356.2 298.0,357.0 298.5,357.6 299.0,358.1 299.5,358.6 300.0,358.9 300.5,359.2 301.0,359.4 301.5,359.5 302.0,359.7 302.5,359.8 303.0,359.8 303.5,359.9 304.0,359.9 304.5,359.9 305.0,360.0 305.5,360.0 306.0,360.0 306.5,360.0 307.0,360.0 307.5,360.0 308.0,360.0 308.5,360.0 309.0,360.0 309.5,360.0 310.0,360.0" fill="none" stroke="#4a4af2" stroke-width="1.15"/>
<text x="249.2" y="62.5" font-size="5.0" class="bt">C-C/C-H</text>
<text x="235.1" y="76.2" font-size="5.0" class="bt">C – O/C – N<tspan font-size="3.4" dy="-2.0">+</tspan></text>
<text x="233.6" y="84.7" font-size="5.0" class="bt">C-SO<tspan font-size="3.4" dy="1.1">3</tspan><tspan font-size="3.4" dx="-1.8" dy="-3.0">−</tspan></text>
<text x="211.9" y="87.9" font-size="5.0" class="bt">O-C=O</text>
<line x1="273.1" y1="61.8" x2="282.6" y2="65.6" stroke="#333" stroke-width="0.55"/>
<line x1="282.6" y1="65.6" x2="281.4" y2="64.0" stroke="#333" stroke-width="0.5"/>
<line x1="282.6" y1="65.6" x2="280.7" y2="65.9" stroke="#333" stroke-width="0.5"/>
<line x1="258.0" y1="78.8" x2="267.3" y2="81.7" stroke="#333" stroke-width="0.55"/>
<line x1="267.3" y1="81.7" x2="265.9" y2="80.2" stroke="#333" stroke-width="0.5"/>
<line x1="267.3" y1="81.7" x2="265.4" y2="82.1" stroke="#333" stroke-width="0.5"/>
<line x1="245.1" y1="88.3" x2="253.0" y2="90.3" stroke="#333" stroke-width="0.55"/>
<line x1="253.0" y1="90.3" x2="251.6" y2="88.9" stroke="#333" stroke-width="0.5"/>
<line x1="253.0" y1="90.3" x2="251.1" y2="90.8" stroke="#333" stroke-width="0.5"/>
<line x1="231.0" y1="86.0" x2="238.2" y2="88.1" stroke="#333" stroke-width="0.55"/>
<line x1="238.2" y1="88.1" x2="236.8" y2="86.7" stroke="#333" stroke-width="0.5"/>
<line x1="238.2" y1="88.1" x2="236.3" y2="88.6" stroke="#333" stroke-width="0.5"/>
<text x="250.4" y="160.5" font-size="5.0" class="bt">C-C/C-H</text>
<text x="235.1" y="170.0" font-size="5.0" class="bt">C-O/C – N<tspan font-size="3.4" dy="-2.0">+</tspan></text>
<text x="232.8" y="179.7" font-size="5.0" class="bt">C-SO<tspan font-size="3.4" dy="1.1">3</tspan><tspan font-size="3.4" dx="-1.8" dy="-3.0">−</tspan></text>
<text x="211.4" y="182.39999999999998" font-size="5.0" class="bt">O-C=O</text>
<text x="306.8" y="179.0" font-size="5.0" class="bt">C-Si</text>
<line x1="274.3" y1="159.8" x2="283.8" y2="163.6" stroke="#333" stroke-width="0.55"/>
<line x1="283.8" y1="163.6" x2="282.6" y2="162.0" stroke="#333" stroke-width="0.5"/>
<line x1="283.8" y1="163.6" x2="281.9" y2="163.9" stroke="#333" stroke-width="0.5"/>
<line x1="254.7" y1="172.6" x2="264.0" y2="175.5" stroke="#333" stroke-width="0.55"/>
<line x1="264.0" y1="175.5" x2="262.6" y2="174.0" stroke="#333" stroke-width="0.5"/>
<line x1="264.0" y1="175.5" x2="262.0" y2="175.9" stroke="#333" stroke-width="0.5"/>
<line x1="244.3" y1="183.3" x2="252.2" y2="185.3" stroke="#333" stroke-width="0.55"/>
<line x1="252.2" y1="185.3" x2="250.8" y2="183.9" stroke="#333" stroke-width="0.5"/>
<line x1="252.2" y1="185.3" x2="250.3" y2="185.8" stroke="#333" stroke-width="0.5"/>
<line x1="230.5" y1="180.5" x2="237.7" y2="182.6" stroke="#333" stroke-width="0.55"/>
<line x1="237.7" y1="182.6" x2="236.3" y2="181.2" stroke="#333" stroke-width="0.5"/>
<line x1="237.7" y1="182.6" x2="235.8" y2="183.1" stroke="#333" stroke-width="0.5"/>
<line x1="305.3" y1="175.0" x2="297.3" y2="170.5" stroke="#333" stroke-width="0.55"/>
<line x1="297.3" y1="170.5" x2="298.3" y2="172.2" stroke="#333" stroke-width="0.5"/>
<line x1="297.3" y1="170.5" x2="299.3" y2="170.5" stroke="#333" stroke-width="0.5"/>
<text x="250.3" y="242.29999999999998" font-size="5.0" class="bt">C-C/C-H</text>
<text x="227.2" y="254.79999999999998" font-size="5.0" class="bt">C-O/C – N<tspan font-size="3.4" dy="-2.0">+</tspan></text>
<text x="234.2" y="264.2" font-size="5.0" class="bt">C-SO<tspan font-size="3.4" dy="1.1">3</tspan><tspan font-size="3.4" dx="-1.8" dy="-3.0">−</tspan></text>
<text x="208.7" y="268.0" font-size="5.0" class="bt">O-C=O</text>
<text x="306.3" y="263.9" font-size="5.0" class="bt">C-Si</text>
<line x1="274.2" y1="241.6" x2="283.7" y2="245.4" stroke="#333" stroke-width="0.55"/>
<line x1="283.7" y1="245.4" x2="282.5" y2="243.8" stroke="#333" stroke-width="0.5"/>
<line x1="283.7" y1="245.4" x2="281.8" y2="245.7" stroke="#333" stroke-width="0.5"/>
<line x1="246.8" y1="257.4" x2="256.1" y2="260.3" stroke="#333" stroke-width="0.55"/>
<line x1="256.1" y1="260.3" x2="254.7" y2="258.8" stroke="#333" stroke-width="0.5"/>
<line x1="256.1" y1="260.3" x2="254.1" y2="260.7" stroke="#333" stroke-width="0.5"/>
<line x1="245.7" y1="267.8" x2="253.6" y2="269.8" stroke="#333" stroke-width="0.55"/>
<line x1="253.6" y1="269.8" x2="252.2" y2="268.4" stroke="#333" stroke-width="0.5"/>
<line x1="253.6" y1="269.8" x2="251.7" y2="270.3" stroke="#333" stroke-width="0.5"/>
<line x1="227.8" y1="266.1" x2="235.0" y2="268.2" stroke="#333" stroke-width="0.55"/>
<line x1="235.0" y1="268.2" x2="233.6" y2="266.8" stroke="#333" stroke-width="0.5"/>
<line x1="235.0" y1="268.2" x2="233.1" y2="268.7" stroke="#333" stroke-width="0.5"/>
<line x1="304.8" y1="259.9" x2="296.8" y2="255.4" stroke="#333" stroke-width="0.55"/>
<line x1="296.8" y1="255.4" x2="297.8" y2="257.1" stroke="#333" stroke-width="0.5"/>
<line x1="296.8" y1="255.4" x2="298.8" y2="255.4" stroke="#333" stroke-width="0.5"/>
<text x="248.2" y="329.0" font-size="5.0" class="bt">C-C/C-H</text>
<text x="223.8" y="341.7" font-size="5.0" class="bt">C-O/C – N<tspan font-size="3.4" dy="-2.0">+</tspan></text>
<text x="231.8" y="351.59999999999997" font-size="5.0" class="bt">C-SO<tspan font-size="3.4" dy="1.1">3</tspan><tspan font-size="3.4" dx="-1.8" dy="-3.0">−</tspan></text>
<text x="205.2" y="355.5" font-size="5.0" class="bt">O-C=O</text>
<text x="306.3" y="350.59999999999997" font-size="5.0" class="bt">C-Si</text>
<line x1="272.1" y1="328.3" x2="281.6" y2="332.1" stroke="#333" stroke-width="0.55"/>
<line x1="281.6" y1="332.1" x2="280.4" y2="330.5" stroke="#333" stroke-width="0.5"/>
<line x1="281.6" y1="332.1" x2="279.7" y2="332.4" stroke="#333" stroke-width="0.5"/>
<line x1="243.4" y1="344.3" x2="252.7" y2="347.2" stroke="#333" stroke-width="0.55"/>
<line x1="252.7" y1="347.2" x2="251.3" y2="345.7" stroke="#333" stroke-width="0.5"/>
<line x1="252.7" y1="347.2" x2="250.7" y2="347.6" stroke="#333" stroke-width="0.5"/>
<line x1="243.3" y1="355.2" x2="251.2" y2="357.2" stroke="#333" stroke-width="0.55"/>
<line x1="251.2" y1="357.2" x2="249.8" y2="355.8" stroke="#333" stroke-width="0.5"/>
<line x1="251.2" y1="357.2" x2="249.3" y2="357.7" stroke="#333" stroke-width="0.5"/>
<line x1="224.3" y1="353.6" x2="231.5" y2="355.7" stroke="#333" stroke-width="0.55"/>
<line x1="231.5" y1="355.7" x2="230.1" y2="354.3" stroke="#333" stroke-width="0.5"/>
<line x1="231.5" y1="355.7" x2="229.6" y2="356.2" stroke="#333" stroke-width="0.5"/>
<line x1="304.8" y1="346.6" x2="296.8" y2="342.1" stroke="#333" stroke-width="0.55"/>
<line x1="296.8" y1="342.1" x2="297.8" y2="343.8" stroke="#333" stroke-width="0.5"/>
<line x1="296.8" y1="342.1" x2="298.8" y2="342.1" stroke="#333" stroke-width="0.5"/>
</svg>
</body></html>
